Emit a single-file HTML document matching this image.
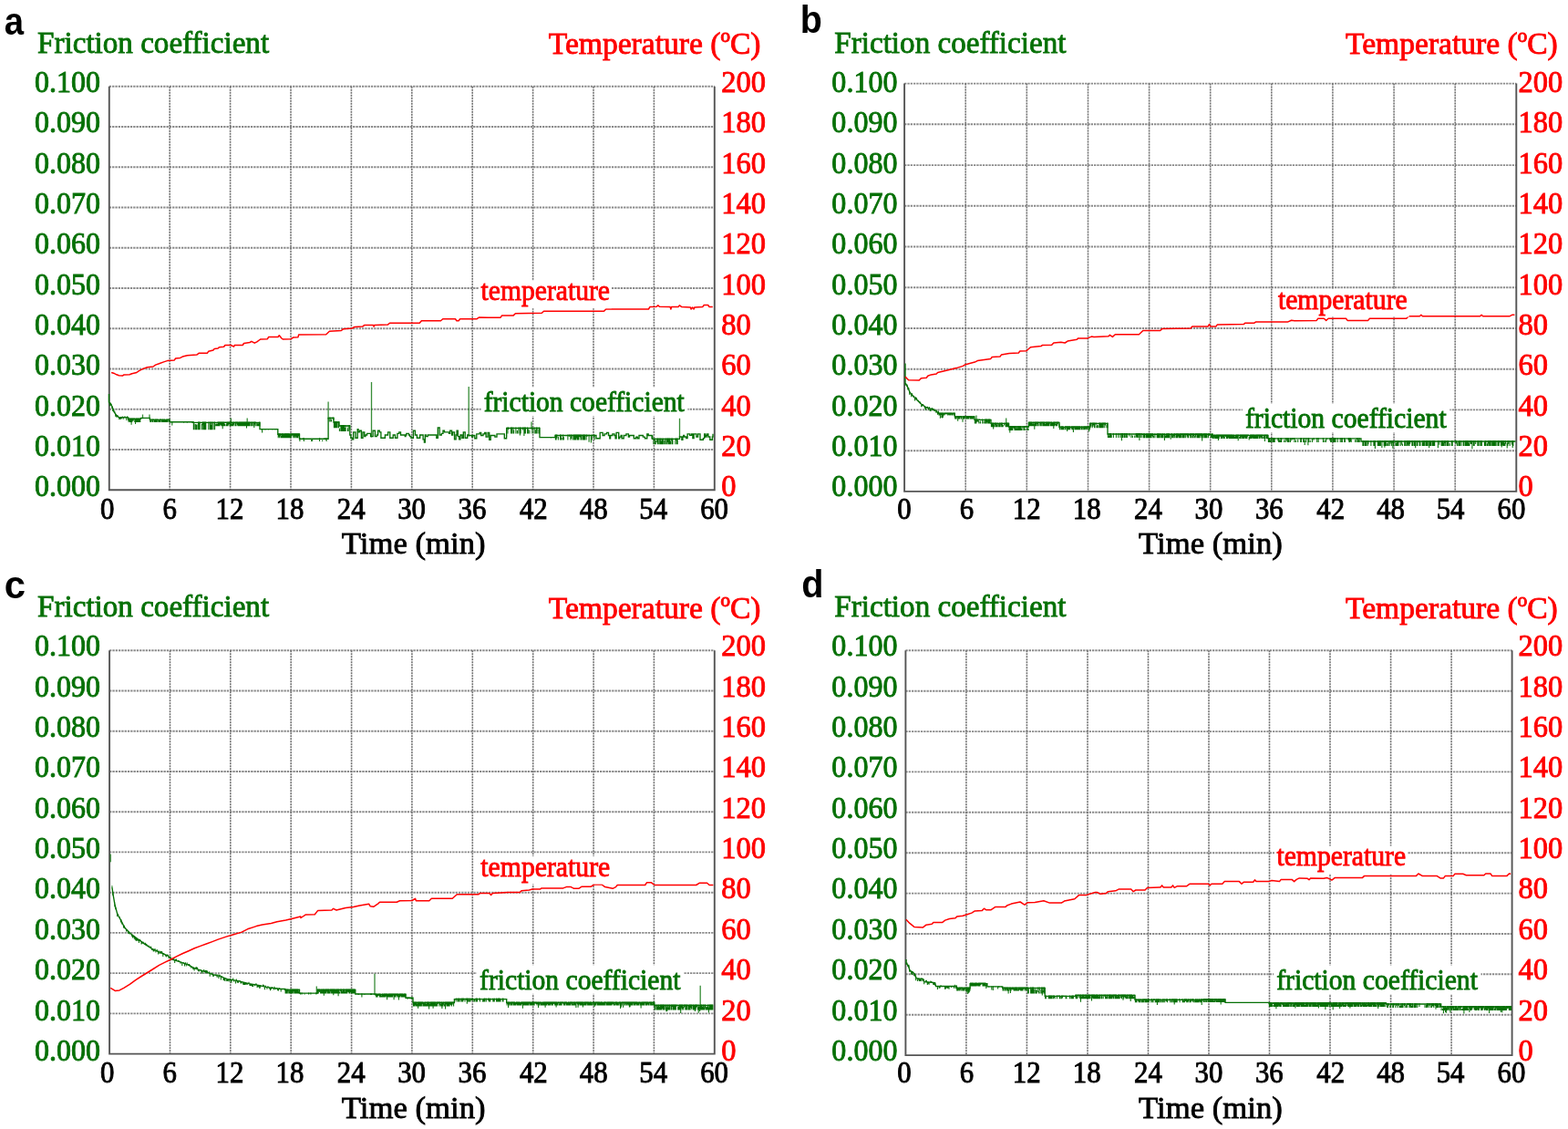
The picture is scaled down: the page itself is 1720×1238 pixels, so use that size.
<!DOCTYPE html><html><head><meta charset="utf-8"><style>html,body{margin:0;padding:0;background:#fff;overflow:hidden}svg{display:block}text{font-variant-ligatures:none}</style></head><body><svg width="1720" height="1238" viewBox="0 0 1720 1238">
<rect width="1720" height="1238" fill="#fff"/>
<path d="M119.8,94.8H783.8M119.8,139.0H783.8M119.8,183.3H783.8M119.8,227.5H783.8M119.8,271.8H783.8M119.8,316.0H783.8M119.8,360.2H783.8M119.8,404.5H783.8M119.8,448.7H783.8M119.8,493.0H783.8" stroke="#8a8a8a" stroke-width="1.9" stroke-dasharray="2.3 1" fill="none"/><path d="M186.2,94.8V537.2M252.6,94.8V537.2M319.0,94.8V537.2M385.4,94.8V537.2M451.8,94.8V537.2M518.2,94.8V537.2M584.6,94.8V537.2M651.0,94.8V537.2M717.4,94.8V537.2" stroke="#707070" stroke-width="1.6" stroke-dasharray="2 1" fill="none"/><path d="M119.8,94.8 V537.2 H783.8 V94.8" stroke="#555" stroke-width="1.9" fill="none"/>
<path d="M119.5,432.0 L119.5,441.0 L122.9,445.6 L124.9,451.5 L127.8,455.5 L129.8,457.4 L140.7,458.0 L140.7,458.0 L140.7,459.4 L154.5,459.4 L154.5,459.4 L154.5,458.3 L164.4,458.3 L164.4,458.3 L164.4,460.4 L186.2,460.4 L186.2,460.4 L186.2,462.7 L211.9,462.7 L211.9,462.7 L211.9,463.4 L235.6,463.4 L235.6,463.4 L235.6,463.4 L285.0,463.4 L285.0,463.4 L285.0,470.6 L304.8,470.6 L304.8,470.6 L304.8,476.2 L328.5,476.2 L328.5,476.2 L328.5,481.2 L360.1,481.2 L360.1,481.2 L360.1,458.4 L366.0,458.4 L366.0,458.4 L366.0,463.0 L372.0,463.0 L372.0,463.0 L372.0,467.0 L383.8,467.0 L383.8,467.0 L383.8,477.0 L384.9,477.0 L384.9,480.2 L386.3,480.2 L386.3,481.8 L387.7,481.8 L387.7,473.8 L390.0,473.8 L390.0,480.2 L392.2,480.2 L392.2,470.6 L393.0,470.6 L393.0,473.8 L394.6,473.8 L394.6,472.2 L396.4,472.2 L396.4,480.2 L398.0,480.2 L398.0,473.8 L399.8,473.8 L399.8,478.6 L400.9,478.6 L400.9,477.0 L402.6,477.0 L402.6,475.4 L404.2,475.4 L404.2,475.4 L406.6,475.4 L406.6,478.6 L409.1,478.6 L409.1,472.2 L411.4,472.2 L411.4,478.6 L413.3,478.6 L413.3,477.0 L414.6,477.0 L414.6,472.2 L416.4,472.2 L416.4,473.8 L417.9,473.8 L417.9,480.2 L419.9,480.2 L419.9,480.2 L422.4,480.2 L422.4,477.0 L424.4,477.0 L424.4,477.0 L425.6,477.0 L425.6,473.8 L427.8,473.8 L427.8,480.2 L429.7,480.2 L429.7,480.2 L431.2,480.2 L431.2,477.0 L433.5,477.0 L433.5,480.2 L435.9,480.2 L435.9,475.4 L437.8,475.4 L437.8,473.8 L439.5,473.8 L439.5,477.0 L442.0,477.0 L442.0,477.0 L444.3,477.0 L444.3,478.6 L445.0,478.6 L445.0,478.6 L445.0,478.6 L445.0,477.0 L445.8,477.0 L445.8,475.4 L448.4,475.4 L448.4,477.0 L449.6,477.0 L449.6,478.6 L451.0,478.6 L451.0,480.2 L453.4,480.2 L453.4,472.2 L455.4,472.2 L455.4,477.0 L457.4,477.0 L457.4,480.2 L458.4,480.2 L458.4,480.2 L460.7,480.2 L460.7,477.0 L462.4,477.0 L462.4,477.0 L464.1,477.0 L464.1,481.8 L465.4,481.8 L465.4,485.0 L466.3,485.0 L466.3,477.0 L467.2,477.0 L467.2,478.6 L469.2,478.6 L469.2,477.0 L471.5,477.0 L471.5,477.0 L473.2,477.0 L473.2,477.0 L474.7,477.0 L474.7,477.0 L476.3,477.0 L476.3,477.0 L478.8,477.0 L478.8,480.2 L480.3,480.2 L480.3,469.0 L482.2,469.0 L482.2,477.0 L484.3,477.0 L484.3,475.4 L486.0,475.4 L486.0,472.2 L487.5,472.2 L487.5,473.8 L490.1,473.8 L490.1,473.8 L492.5,473.8 L492.5,475.4 L493.7,475.4 L493.7,472.2 L495.6,472.2 L495.6,477.0 L496.6,477.0 L496.6,473.8 L498.5,473.8 L498.5,481.8 L500.1,481.8 L500.1,477.0 L501.1,477.0 L501.1,472.2 L502.3,472.2 L502.3,478.6 L503.7,478.6 L503.7,481.8 L505.0,481.8 L505.0,477.0 L506.9,477.0 L506.9,480.2 L508.3,480.2 L508.3,473.8 L510.2,473.8 L510.2,480.2 L511.8,480.2 L511.8,480.2 L512.7,480.2 L512.7,477.0 L514.0,477.0 L514.0,477.0 L514.2,477.0 L514.2,477.5 L515.8,477.5 L515.8,477.5 L517.6,477.5 L517.6,479.1 L518.7,479.1 L518.7,477.5 L520.8,477.5 L520.8,480.7 L522.8,480.7 L522.8,475.9 L524.9,475.9 L524.9,475.9 L526.2,475.9 L526.2,474.3 L527.7,474.3 L527.7,477.5 L529.1,477.5 L529.1,477.5 L530.0,477.5 L530.0,475.9 L531.7,475.9 L531.7,474.3 L533.1,474.3 L533.1,479.1 L535.1,479.1 L535.1,474.3 L536.7,474.3 L536.7,482.3 L538.2,482.3 L538.2,477.5 L540.4,477.5 L540.4,477.5 L542.9,477.5 L542.9,479.1 L545.0,479.1 L545.0,475.9 L547.2,475.9 L547.2,475.9 L549.4,475.9 L549.4,475.9 L551.6,475.9 L551.6,475.9 L553.3,475.9 L553.3,480.7 L555.6,480.7 L555.6,477.5 L555.7,477.5 L555.7,479.1 L555.7,479.1 L555.7,469.5 L592.0,469.5 L592.0,469.5 L592.0,479.6 L609.0,479.6 L609.0,479.6 L609.0,477.5 L652.5,477.5 L652.5,477.5 L652.5,477.5 L654.0,477.5 L654.0,480.7 L655.6,480.7 L655.6,480.7 L656.5,480.7 L656.5,480.7 L658.2,480.7 L658.2,474.3 L659.0,474.3 L659.0,474.3 L661.1,474.3 L661.1,477.5 L663.1,477.5 L663.1,475.9 L665.5,475.9 L665.5,474.3 L667.5,474.3 L667.5,477.5 L668.8,477.5 L668.8,480.7 L669.6,480.7 L669.6,477.5 L671.9,477.5 L671.9,475.9 L674.0,475.9 L674.0,477.5 L675.1,477.5 L675.1,480.7 L676.1,480.7 L676.1,474.3 L678.7,474.3 L678.7,480.7 L679.6,480.7 L679.6,479.1 L681.2,479.1 L681.2,477.5 L682.1,477.5 L682.1,480.7 L684.2,480.7 L684.2,477.5 L685.0,477.5 L685.0,477.5 L686.9,477.5 L686.9,475.9 L689.4,475.9 L689.4,479.1 L690.5,479.1 L690.5,477.5 L693.0,477.5 L693.0,477.5 L695.3,477.5 L695.3,480.7 L697.7,480.7 L697.7,479.1 L699.3,479.1 L699.3,480.7 L701.0,480.7 L701.0,477.5 L702.0,477.5 L702.0,477.5 L703.9,477.5 L703.9,477.5 L705.4,477.5 L705.4,479.1 L707.4,479.1 L707.4,480.7 L709.8,480.7 L709.8,475.9 L711.2,475.9 L711.2,477.5 L713.5,477.5 L713.5,477.5 L715.1,477.5 L715.1,480.7 L715.8,480.7 L715.8,477.5 L715.8,477.5 L715.8,481.4 L743.5,481.4 L745.5,481.4 L745.5,479.0 L747.9,479.0 L747.9,482.2 L748.9,482.2 L748.9,479.0 L749.7,479.0 L749.7,477.4 L750.6,477.4 L750.6,479.0 L752.7,479.0 L752.7,480.6 L754.1,480.6 L754.1,475.8 L756.7,475.8 L756.7,477.4 L758.5,477.4 L758.5,475.8 L759.9,475.8 L759.9,480.6 L761.1,480.6 L761.1,475.8 L763.0,475.8 L763.0,475.8 L763.9,475.8 L763.9,479.0 L765.6,479.0 L765.6,475.8 L768.0,475.8 L768.0,482.2 L769.3,482.2 L769.3,482.2 L771.4,482.2 L771.4,480.6 L772.7,480.6 L772.7,475.8 L773.9,475.8 L773.9,479.0 L775.0,479.0 L775.0,477.4 L775.8,477.4 L775.8,475.8 L776.9,475.8 L776.9,479.0 L778.8,479.0 L778.8,482.2 L781.4,482.2 L781.4,479.0 L782.0,479.0 L782.0,475.8" stroke="#067006" stroke-width="1.35" fill="none" stroke-linejoin="miter" stroke-miterlimit="2"/><path d="M120.4,442.2V445.2M121.3,443.4V441.6M122.2,444.7V442.8M122.9,445.6V448.3M123.8,448.3V451.1M124.7,450.9V448.8M125.8,452.7V450.8M126.7,454.0V456.8M127.8,455.5V457.8M128.7,456.4V455.1M129.6,457.2V455.7M130.7,457.4V460.1M131.6,457.5V459.7M132.5,457.5V459.7M133.4,457.6V459.2M134.3,457.6V456.6M135.2,457.7V459.8M137.0,457.8V456.3M138.8,457.9V461.1M139.7,457.9V456.2M140.6,458.0V460.9M141.1,458.4V463.0M141.8,458.4V461.9M142.6,458.4V463.0M143.3,458.4V463.0M144.1,458.4V465.8M144.8,458.4V463.0M145.6,458.4V461.8M146.3,458.4V461.6M147.1,458.4V460.0M147.8,458.4V463.0M148.6,459.3V465.0M149.3,458.4V463.0M150.1,458.4V463.0M150.8,458.4V463.0M151.6,458.4V463.0M152.3,458.4V463.0M153.1,458.4V463.0M153.8,458.4V463.0M155.7,458.0V459.0M161.7,458.0V459.0M164.8,459.4V463.0M165.6,460.2V463.0M166.3,459.4V461.3M167.1,459.4V463.0M167.8,459.4V463.0M168.6,459.4V460.5M169.3,460.5V463.0M170.1,459.4V463.0M170.8,459.4V463.0M171.6,459.4V463.0M172.3,459.4V463.0M173.1,459.4V461.0M173.8,460.7V463.0M174.6,460.2V463.0M175.3,459.4V463.0M176.1,459.4V463.0M176.8,459.4V460.8M177.6,460.6V463.0M178.3,459.4V463.0M179.1,459.4V463.0M179.8,460.5V463.0M180.6,459.4V463.0M181.3,460.5V463.0M182.1,460.6V463.0M182.8,459.4V463.0M183.6,459.4V463.0M184.3,459.4V461.3M185.1,459.4V463.0M185.8,459.4V463.0M186.6,462.9V463.4M188.8,462.4V466.6M193.3,462.4V462.7M201.6,462.4V463.4M205.3,462.4V463.4M210.6,462.4V463.4M212.3,462.4V471.3M213.1,464.4V471.3M214.6,465.1V471.3M215.3,465.8V471.3M216.1,465.2V471.3M217.6,462.4V471.3M218.3,462.4V471.3M219.1,462.4V471.3M221.3,465.1V471.3M222.1,462.4V466.2M222.8,462.4V471.3M223.6,462.4V471.3M224.3,462.4V471.3M225.1,462.4V471.3M225.8,462.4V471.3M228.8,462.4V471.3M230.3,462.4V471.3M231.1,462.4V471.3M231.8,466.0V471.3M232.6,462.4V471.3M234.1,462.4V471.3M235.6,462.4V471.3M236.8,464.8V467.3M237.5,464.5V467.3M238.2,465.0V467.3M239.0,462.4V467.3M239.8,462.4V467.3M240.5,462.4V467.3M241.2,462.4V465.7M242.0,462.4V467.3M242.8,462.4V466.2M243.5,462.4V467.3M244.2,462.4V470.2M245.0,462.4V467.3M245.8,462.4V467.3M246.5,464.8V467.3M247.2,462.4V464.0M248.0,465.3V467.3M248.8,462.4V467.3M249.5,462.4V467.3M250.2,462.4V465.7M251.0,462.4V467.3M251.8,462.4V465.0M252.5,462.4V467.3M253.2,462.4V467.3M254.0,465.0V467.3M254.8,462.4V467.3M255.5,464.0V467.3M256.2,462.4V465.7M257.0,462.4V467.3M258.5,462.4V467.3M259.2,462.4V464.4M260.0,462.4V467.3M260.8,462.4V466.2M261.5,463.6V467.3M262.2,462.4V467.3M263.0,462.4V467.3M263.8,462.4V467.3M264.5,462.4V467.3M265.2,462.4V467.3M266.0,462.4V467.3M266.8,462.4V467.3M267.5,462.4V467.3M268.2,462.4V467.3M269.0,462.4V467.3M269.8,462.4V467.3M270.5,462.4V469.5M271.2,463.8V467.3M272.0,462.4V467.3M272.8,462.4V467.3M273.5,462.4V467.3M274.2,462.4V467.3M275.8,462.4V467.3M276.5,462.4V467.3M278.0,462.4V467.3M278.8,462.4V469.1M279.5,462.4V465.5M280.2,462.4V467.3M281.8,464.1V467.3M282.5,464.2V467.3M283.2,464.4V467.3M284.0,464.0V467.3M284.8,462.4V467.3M286.1,470.3V471.0M286.9,470.3V471.3M287.6,470.3V474.4M289.1,470.3V471.0M289.9,470.6V471.3M291.4,470.3V471.3M292.9,470.3V470.9M294.4,470.3V471.3M298.9,470.7V471.3M301.9,470.3V471.3M304.1,470.3V471.3M305.2,475.2V480.2M305.9,475.2V478.7M306.7,475.2V480.2M307.4,475.2V478.3M308.2,477.7V480.2M308.9,475.2V480.2M309.7,475.2V480.2M310.4,475.2V480.2M311.2,476.6V480.2M311.9,475.2V480.2M312.7,475.2V480.2M313.4,475.2V480.2M314.2,475.2V480.2M314.9,475.2V480.2M315.7,475.2V480.2M316.4,475.2V480.2M317.2,475.2V480.2M317.9,477.1V480.2M318.7,475.2V480.2M319.4,475.2V480.2M320.2,475.2V478.3M320.9,475.2V477.2M321.7,475.2V480.2M322.4,475.2V478.6M323.2,475.2V480.2M323.9,475.2V480.2M324.7,475.2V478.5M325.4,475.2V480.2M326.2,475.2V480.2M326.9,475.2V480.2M327.7,475.2V478.3M328.4,475.2V480.2M328.9,480.2V484.1M332.6,480.2V482.2M333.4,480.2V484.1M341.6,482.3V484.1M342.4,481.1V484.1M350.6,480.2V484.1M353.6,482.5V484.1M355.9,480.2V481.7M357.4,480.2V482.6M358.1,481.5V484.1M358.9,480.2V481.8M361.2,457.4V462.5M362.8,457.4V462.5M363.5,459.8V462.5M365.0,457.4V459.6M365.8,457.4V460.8M366.4,462.0V469.3M367.1,462.0V469.3M367.9,462.0V469.3M368.6,462.0V469.3M369.4,462.0V469.3M370.9,462.0V469.3M371.6,462.0V469.3M372.4,469.7V473.0M373.9,466.0V473.0M374.6,466.0V473.0M375.4,466.0V473.0M376.1,466.0V473.0M376.9,466.0V473.0M377.6,466.0V473.0M378.4,469.1V473.0M379.1,466.0V473.0M381.4,469.6V473.0M382.1,466.0V473.0M383.6,466.0V471.0M556.9,468.5V475.5M557.6,468.5V471.0M560.6,468.5V475.5M561.4,468.5V475.5M562.9,468.5V475.5M563.6,471.4V475.5M565.9,468.5V475.5M567.4,472.1V475.5M568.9,468.5V475.5M570.4,468.5V477.5M571.1,468.5V475.5M573.4,468.5V471.4M574.9,468.5V478.0M575.6,468.5V475.5M576.4,468.5V475.5M578.6,468.5V475.5M579.4,470.5V475.5M580.9,471.6V475.5M583.9,468.5V475.5M586.1,468.5V475.5M587.6,471.2V475.5M588.4,468.5V475.5M589.1,468.5V471.2M589.9,471.1V475.5M591.4,468.5V475.5M595.4,479.4V480.0M599.9,479.4V480.0M604.4,479.8V480.2M609.4,476.5V482.4M610.1,476.5V482.4M610.9,476.5V480.5M612.4,478.8V482.4M614.6,476.5V482.4M615.4,476.5V482.4M616.1,479.9V482.4M617.6,476.5V482.4M618.4,479.2V482.4M622.9,476.5V482.4M624.4,476.5V478.8M625.9,476.5V482.4M626.6,476.5V480.9M628.1,476.5V482.4M629.6,476.5V482.4M630.4,476.5V482.4M631.1,476.5V482.4M631.9,476.5V482.4M632.6,476.5V480.6M633.4,476.5V482.4M634.1,476.5V482.4M634.9,476.5V482.4M635.6,476.5V478.9M636.4,476.5V479.6M637.1,476.5V482.4M637.9,476.5V482.4M639.4,476.5V482.4M640.1,476.5V482.4M640.9,476.5V482.4M641.6,476.5V482.4M643.1,476.5V482.4M643.9,476.5V478.7M646.1,476.5V484.7M648.4,478.3V485.6M649.1,476.5V482.4M651.4,476.5V479.0M652.1,476.5V482.4M716.9,480.4V487.3M718.4,480.4V487.3M719.2,483.1V487.3M720.7,480.4V485.2M721.4,480.4V487.3M722.2,480.4V487.3M723.7,480.4V487.3M724.4,480.4V487.3M725.2,483.8V487.3M725.9,480.4V487.3M726.7,482.3V487.3M727.4,480.4V487.3M728.9,482.7V487.3M729.7,480.4V487.3M731.2,480.4V487.3M731.9,480.4V487.3M732.7,480.4V485.1M733.4,480.4V487.3M734.2,480.4V487.3M734.9,480.4V487.3M735.7,483.8V487.3M736.4,480.4V483.2M737.2,480.4V487.3M737.9,480.4V487.3M740.9,480.4V487.3M741.7,480.4V483.0M742.4,480.4V487.3M743.2,480.4V487.3" stroke="#067006" stroke-width="1.05" fill="none"/><path d="M156.5,459.3V454.5M164.0,459.3V454.5M253.4,464.4V458.4M271.2,464.4V458.4M360.1,459.4V440.6M407.5,479.6V418.9M514.2,478.5V424.0M583.0,470.5V462.6M745.5,480.0V458.7" stroke="#067006" stroke-width="1.3" fill="none" opacity="0.8"/><path d="M122.1,408.5 L124.7,409.2 L127.9,410.8 L130.5,411.7 L134.4,412.1 L135.7,411.1 L142.1,410.8 L144.7,409.8 L149.9,408.5 L152.5,406.6 L156.4,404.6 L161.5,402.7 L168.0,402.0 L170.6,400.1 L174.5,398.8 L179.6,396.9 L183.5,395.6 L191.3,394.9 L192.6,393.0 L197.7,392.4 L200.3,391.1 L205.5,389.8 L215.8,389.1 L218.4,387.2 L227.5,387.2 L228.8,385.2 L233.9,384.0 L235.2,382.4 L239.1,382.0 L240.4,380.7 L245.6,380.3 L246.9,378.5 L253.3,378.5 L256.5,380.1 L257.2,378.5 L266.2,378.5 L267.5,376.5 L274.0,375.5 L275.9,374.3 L279.2,376.2 L281.8,374.9 L284.3,373.0 L285.6,372.1 L293.4,371.7 L294.7,369.5 L305.0,369.5 L306.3,367.8 L308.9,371.0 L310.2,371.9 L319.2,371.7 L321.8,370.0 L327.0,369.7 L327.6,367.1 L357.7,366.8 L361.4,363.3 L374.4,362.5 L376.6,360.7 L386.1,360.0 L389.0,358.5 L397.7,358.1 L399.9,356.4 L409.3,356.4 L410.1,358.1 L410.8,356.4 L425.3,356.1 L427.5,354.2 L460.2,354.2 L462.4,351.7 L483.5,351.7 L485.7,349.8 L499.5,349.8 L500.9,351.7 L503.1,351.7 L504.6,349.8 L522.8,349.8 L525.7,347.9 L535.0,348.2 L549.1,348.2 L550.6,345.9 L563.2,345.9 L565.4,343.7 L594.3,343.3 L596.5,341.2 L662.5,341.2 L664.7,339.0 L711.4,339.0 L712.9,336.6 L720.3,336.3 L721.8,334.8 L723.3,336.3 L735.1,336.6 L735.9,339.0 L736.6,336.6 L744.0,336.6 L745.5,334.8 L747.8,336.6 L757.4,337.0 L758.1,339.0 L759.6,337.0 L761.1,339.0 L761.8,337.0 L770.7,336.6 L772.2,334.5 L776.7,334.5 L778.1,336.6 L781.8,336.6" stroke="#ff0000" stroke-width="1.5" fill="none" stroke-linejoin="round"/>
<path d="M992.1,91.6H1663.3M992.1,136.3H1663.3M992.1,181.1H1663.3M992.1,225.8H1663.3M992.1,270.5H1663.3M992.1,315.2H1663.3M992.1,360.0H1663.3M992.1,404.7H1663.3M992.1,449.4H1663.3M992.1,494.2H1663.3" stroke="#8a8a8a" stroke-width="1.9" stroke-dasharray="2.3 1" fill="none"/><path d="M1059.2,91.6V538.9M1126.3,91.6V538.9M1193.5,91.6V538.9M1260.6,91.6V538.9M1327.7,91.6V538.9M1394.8,91.6V538.9M1461.9,91.6V538.9M1529.1,91.6V538.9M1596.2,91.6V538.9" stroke="#707070" stroke-width="1.6" stroke-dasharray="2 1" fill="none"/><path d="M992.1,91.6 V538.9 H1663.3 V91.6" stroke="#555" stroke-width="1.9" fill="none"/>
<path d="M993.0,398.5 L993.0,420.3 L995.0,422.8 L997.9,429.8 L1001.8,434.7 L1005.8,438.6 L1009.8,442.6 L1015.7,446.6 L1021.6,448.5 L1027.6,451.5 L1029.5,452.5 L1029.5,452.5 L1029.5,453.4 L1047.3,453.4 L1047.3,453.4 L1047.3,456.9 L1069.0,456.9 L1069.0,456.9 L1069.0,460.4 L1087.0,460.4 L1087.0,460.4 L1087.0,464.4 L1106.6,464.4 L1106.6,464.4 L1106.6,468.0 L1128.4,468.0 L1128.4,468.0 L1128.4,463.4 L1162.0,463.4 L1162.0,463.4 L1162.0,468.3 L1195.6,468.3 L1195.6,468.3 L1195.6,464.4 L1215.0,464.4 L1215.0,464.4 L1215.0,476.0 L1253.0,476.0 L1253.0,476.0 L1253.0,476.2 L1330.0,476.2 L1330.0,476.2 L1330.0,477.4 L1391.0,477.4 L1391.0,477.4 L1391.0,480.9 L1493.0,480.9 L1493.0,480.9 L1493.0,484.0 L1662.5,484.0" stroke="#067006" stroke-width="1.35" fill="none" stroke-linejoin="miter" stroke-miterlimit="2"/><path d="M993.0,420.3V423.0M993.9,421.4V420.5M994.8,422.5V424.3M995.0,422.8V421.5M995.9,425.0V427.6M996.8,427.1V425.3M997.7,429.3V432.2M997.9,429.8V432.9M999.7,432.1V435.3M1000.6,433.2V431.3M1001.5,434.3V433.4M1001.8,434.7V433.7M1002.7,435.6V434.1M1003.6,436.5V439.4M1004.5,437.3V435.3M1005.4,438.2V436.1M1005.8,438.6V437.2M1007.6,440.4V438.7M1008.5,441.3V440.2M1009.4,442.2V440.5M1009.8,442.6V441.5M1010.7,443.2V446.2M1011.6,443.8V445.4M1012.5,444.4V443.1M1014.3,445.7V447.8M1015.2,446.3V449.7M1015.7,446.6V449.7M1016.6,446.9V445.9M1017.5,447.2V445.8M1018.4,447.5V449.8M1019.3,447.8V445.9M1020.2,448.0V450.7M1021.1,448.3V451.1M1022.5,448.9V446.9M1023.4,449.4V448.2M1024.3,449.8V448.1M1025.2,450.3V449.0M1026.1,450.8V449.6M1027.0,451.2V453.1M1027.6,451.5V449.5M1028.5,452.0V454.7M1029.4,452.4V450.5M1029.9,452.5V455.5M1030.7,452.5V455.5M1031.4,452.5V458.8M1032.2,452.5V454.9M1032.9,452.5V458.1M1033.7,452.5V458.6M1034.4,452.5V457.8M1035.2,454.2V455.5M1035.9,452.5V455.5M1036.7,452.5V454.4M1037.4,452.5V454.1M1038.2,452.5V454.6M1038.9,452.5V453.9M1039.7,452.5V455.5M1040.4,452.5V454.8M1041.2,452.5V455.5M1041.9,452.5V454.7M1042.7,452.5V455.5M1043.4,452.5V454.4M1044.2,452.5V455.5M1044.9,454.0V455.5M1045.7,452.5V454.3M1046.4,452.5V455.5M1047.2,452.5V453.9M1047.7,455.9V459.4M1048.5,455.9V459.4M1049.2,457.2V459.4M1050.0,455.9V457.7M1050.7,455.9V461.7M1051.5,455.9V459.4M1052.2,455.9V459.4M1053.0,455.9V459.4M1053.7,455.9V457.3M1054.5,455.9V459.4M1056.0,456.8V462.7M1056.7,455.9V459.4M1057.5,455.9V459.4M1058.2,455.9V458.2M1059.0,455.9V459.4M1060.5,455.9V459.4M1061.2,455.9V459.4M1062.0,455.9V459.4M1062.7,455.9V459.4M1063.5,455.9V457.8M1064.2,455.9V459.4M1065.0,455.9V459.4M1065.7,455.9V459.4M1066.5,457.2V459.4M1067.2,455.9V459.4M1068.0,455.9V459.4M1069.4,459.4V464.4M1070.2,459.4V464.4M1070.9,459.4V464.4M1071.7,459.4V462.8M1072.4,459.4V461.9M1073.2,459.4V463.1M1073.9,462.1V464.4M1074.7,459.4V461.1M1075.4,461.4V464.4M1077.7,459.4V464.4M1079.2,461.4V464.4M1080.7,459.4V464.4M1081.4,459.4V464.4M1082.2,459.4V464.4M1082.9,459.4V463.1M1083.7,461.2V464.4M1084.4,459.4V464.4M1085.2,459.4V464.4M1085.9,459.4V464.4M1087.4,463.4V468.3M1088.2,463.4V468.3M1088.9,463.4V468.3M1089.7,463.4V470.6M1090.4,465.5V468.3M1091.2,463.4V465.7M1091.9,463.4V468.3M1092.7,463.4V468.3M1093.4,465.6V468.3M1094.2,463.4V468.3M1095.7,464.8V468.3M1096.4,463.4V468.3M1097.2,465.4V468.3M1097.9,463.4V465.9M1098.7,463.4V468.3M1099.4,463.4V468.3M1100.2,465.9V468.3M1101.7,463.4V466.4M1103.2,463.4V468.3M1103.9,463.4V468.3M1104.7,463.4V468.3M1105.4,463.4V468.3M1106.2,463.4V468.3M1107.0,468.4V472.0M1107.8,467.0V474.6M1108.5,467.0V472.0M1109.2,467.0V472.0M1110.0,467.0V472.0M1110.8,467.0V472.0M1111.5,467.0V469.0M1112.2,467.0V469.9M1113.0,467.0V472.0M1113.8,467.0V472.0M1114.5,469.4V472.0M1115.2,467.0V472.0M1116.0,469.6V472.0M1116.8,467.0V472.0M1117.5,467.0V472.0M1118.2,467.0V472.0M1119.0,467.0V472.0M1119.8,467.0V472.0M1120.5,469.6V472.0M1122.0,467.0V472.0M1123.5,467.0V472.0M1124.2,467.0V468.5M1125.0,469.7V472.0M1125.8,467.0V468.7M1127.2,467.0V472.0M1128.0,469.7V472.0M1128.8,462.4V467.3M1129.6,462.4V467.3M1130.3,462.4V467.3M1131.1,462.4V467.3M1131.8,462.4V467.3M1132.6,464.4V467.3M1133.3,462.4V467.3M1134.1,465.0V467.3M1134.8,462.4V470.7M1135.6,462.4V467.3M1136.3,462.4V467.3M1137.1,462.4V467.3M1137.8,462.4V464.8M1138.6,462.4V467.3M1139.3,462.4V464.5M1140.1,465.1V467.3M1140.8,462.4V465.2M1141.6,462.4V467.3M1142.3,462.4V467.3M1143.1,462.4V464.3M1143.8,462.4V467.3M1144.6,462.4V467.3M1145.3,462.4V467.3M1146.1,462.4V467.3M1146.8,465.1V467.3M1147.6,462.4V467.3M1148.3,462.4V467.3M1149.1,462.4V467.3M1149.8,462.4V467.3M1150.6,462.4V467.3M1151.3,462.4V464.7M1152.1,464.5V467.3M1152.8,462.4V467.3M1153.6,462.4V467.3M1154.3,463.6V467.3M1155.1,463.8V467.3M1155.8,462.4V469.9M1156.6,462.4V467.3M1157.3,462.4V466.0M1158.1,465.0V467.3M1158.8,462.4V467.3M1159.6,462.4V467.3M1160.3,462.4V465.3M1161.1,462.4V463.9M1161.8,464.5V467.3M1162.4,467.3V471.3M1163.9,467.3V471.3M1164.7,467.3V471.3M1165.4,467.3V471.3M1166.2,467.3V471.3M1166.9,468.1V471.3M1168.4,467.3V471.3M1169.2,467.3V468.9M1169.9,467.3V471.3M1170.7,467.3V473.0M1171.4,467.3V471.3M1172.2,467.3V471.3M1172.9,467.3V471.3M1173.7,467.3V471.3M1175.2,467.3V469.8M1175.9,467.3V471.3M1176.7,467.3V471.3M1177.4,467.3V474.0M1178.2,467.3V469.3M1178.9,467.3V471.3M1179.7,467.3V471.3M1180.4,467.3V471.3M1181.2,467.3V471.3M1181.9,467.3V471.3M1182.7,467.3V471.3M1183.4,467.3V471.3M1184.2,467.3V471.3M1184.9,467.3V471.3M1186.4,467.3V471.3M1187.2,467.3V471.3M1188.7,467.3V471.3M1189.4,467.3V471.3M1190.2,467.3V471.3M1190.9,467.3V469.7M1191.7,467.3V471.3M1192.4,467.3V469.7M1193.2,467.3V471.3M1193.9,467.3V468.6M1194.7,467.3V473.2M1195.4,467.3V471.3M1196.0,463.4V469.3M1196.8,463.4V467.6M1198.2,463.4V469.3M1199.0,463.4V467.7M1199.8,463.4V466.2M1200.5,463.4V469.3M1201.2,463.4V466.4M1202.0,466.6V469.3M1202.8,463.4V465.7M1203.5,465.8V469.3M1204.2,466.2V469.3M1205.8,463.4V469.3M1206.5,463.4V469.3M1207.2,463.4V469.3M1208.0,464.6V469.3M1208.8,463.4V469.3M1209.5,463.4V469.3M1210.2,463.4V469.3M1211.0,463.4V465.4M1211.8,463.4V469.3M1212.5,463.4V466.4M1214.0,465.6V469.3M1214.8,463.4V469.3M1215.4,475.0V480.0M1216.2,478.0V480.0M1216.9,475.0V480.0M1217.7,475.0V480.0M1218.4,475.0V480.0M1219.2,476.9V480.0M1221.4,475.0V480.0M1224.4,475.0V480.0M1226.7,475.0V480.0M1228.9,475.0V480.0M1230.4,475.0V483.3M1231.2,475.0V480.0M1231.9,475.0V480.0M1233.4,475.0V480.0M1234.2,475.0V480.0M1235.7,475.0V480.0M1236.4,475.0V480.0M1238.7,475.0V478.5M1240.9,476.7V480.0M1242.4,477.6V480.0M1244.7,477.5V480.0M1246.2,475.0V480.0M1246.9,475.0V478.8M1247.7,475.0V480.0M1248.4,475.0V480.0M1249.2,475.0V476.8M1249.9,475.0V482.9M1250.7,475.0V480.0M1252.2,475.0V480.0M1254.2,475.2V480.2M1254.9,475.2V480.2M1255.7,475.2V480.2M1257.2,475.2V480.2M1257.9,475.2V480.2M1258.7,475.2V480.2M1259.4,475.2V480.2M1260.2,475.2V480.2M1260.9,475.2V480.2M1261.7,475.2V480.2M1262.4,475.2V480.2M1263.2,475.2V477.9M1263.9,475.2V480.2M1264.7,475.2V478.8M1265.4,477.5V480.2M1266.9,475.2V480.2M1269.2,475.2V480.2M1269.9,475.2V480.2M1270.7,475.2V480.2M1271.4,475.2V480.2M1272.2,475.2V480.2M1273.7,475.2V480.2M1274.4,477.0V480.2M1275.2,475.2V480.2M1275.9,475.2V480.2M1277.4,475.2V482.9M1278.2,477.4V480.2M1278.9,477.2V480.2M1279.7,475.2V480.2M1280.4,475.2V480.2M1281.2,475.2V480.2M1281.9,475.2V480.2M1282.7,475.2V480.2M1284.2,476.3V481.8M1284.9,475.2V477.2M1285.7,475.2V480.2M1286.4,476.6V480.2M1287.2,476.6V480.2M1287.9,475.2V478.0M1288.7,475.2V480.2M1290.2,475.2V480.2M1290.9,475.2V480.2M1291.7,475.2V480.2M1292.4,475.2V478.4M1293.2,476.3V480.2M1293.9,475.2V480.2M1294.7,475.2V480.2M1295.4,475.2V480.2M1296.2,475.2V477.1M1296.9,475.2V480.2M1297.7,475.2V480.2M1298.4,475.2V480.2M1299.2,475.2V480.2M1299.9,475.2V477.3M1300.7,475.2V480.2M1301.4,475.2V477.0M1302.2,475.2V478.5M1302.9,475.2V480.2M1303.7,475.2V480.2M1305.2,475.2V478.1M1305.9,475.2V480.2M1306.7,475.2V480.2M1307.4,475.2V477.0M1308.2,475.2V480.2M1308.9,475.2V480.2M1309.7,475.2V478.0M1310.4,478.1V480.2M1311.2,475.2V478.6M1311.9,475.2V480.2M1312.7,475.2V476.9M1313.4,475.2V480.2M1314.2,475.2V480.2M1314.9,475.2V480.2M1315.7,475.2V480.2M1316.4,475.2V477.7M1317.2,475.2V480.2M1317.9,475.2V478.3M1318.7,475.2V483.5M1319.4,476.9V480.2M1320.2,475.2V477.6M1320.9,475.2V480.2M1321.7,475.2V480.2M1322.4,475.2V480.2M1323.2,475.2V480.2M1323.9,475.2V480.2M1325.4,475.2V480.2M1326.2,475.2V477.5M1326.9,475.2V478.1M1328.4,477.1V480.2M1329.2,477.1V480.2M1329.9,475.2V480.2M1330.4,476.4V480.9M1331.2,477.7V480.9M1331.9,476.4V479.6M1332.7,476.4V480.9M1333.4,477.8V480.9M1334.2,476.4V480.9M1334.9,476.4V480.9M1335.7,476.4V480.9M1336.4,476.4V483.1M1337.2,476.4V480.9M1337.9,476.4V478.8M1338.7,476.4V478.7M1339.4,476.4V480.9M1340.2,476.4V480.9M1340.9,476.4V480.9M1341.7,476.4V479.6M1342.4,476.4V480.9M1343.2,476.4V480.9M1343.9,476.4V478.3M1344.7,476.4V479.1M1345.4,476.4V480.9M1346.2,476.4V480.9M1346.9,476.4V480.9M1347.7,476.4V479.7M1348.4,476.4V480.9M1349.2,476.4V480.9M1349.9,476.4V480.9M1350.7,476.4V480.9M1351.4,476.4V480.9M1352.2,476.4V480.9M1352.9,478.0V480.9M1353.7,476.4V480.9M1354.4,478.7V480.9M1355.2,477.8V480.9M1355.9,476.4V480.9M1356.7,476.4V480.9M1357.4,476.4V480.9M1358.2,476.4V483.2M1358.9,476.4V478.3M1359.7,478.8V480.9M1360.4,476.4V480.9M1361.2,476.4V480.9M1361.9,476.4V478.9M1362.7,476.4V480.9M1363.4,476.4V480.9M1364.2,476.4V480.9M1364.9,476.4V480.9M1365.7,476.4V479.5M1366.4,476.4V480.9M1367.2,476.4V480.9M1367.9,476.4V480.9M1368.7,476.4V478.8M1369.4,476.4V478.0M1370.2,479.1V482.5M1370.9,477.5V480.9M1371.7,476.4V480.9M1372.4,476.4V480.9M1373.2,476.4V480.9M1373.9,476.4V479.8M1374.7,476.4V480.9M1375.4,476.4V480.9M1376.2,476.4V480.9M1376.9,477.4V480.9M1377.7,476.4V480.9M1378.4,476.4V480.9M1379.2,476.4V480.9M1379.9,476.4V480.9M1380.7,476.4V478.6M1381.4,476.4V480.9M1382.2,476.4V479.4M1382.9,476.4V480.9M1383.7,476.4V479.7M1384.4,476.4V480.9M1385.2,476.4V477.8M1385.9,478.4V480.9M1386.7,476.4V480.9M1387.4,476.4V484.0M1388.2,476.4V477.8M1388.9,476.4V480.9M1389.7,476.4V480.9M1390.4,476.4V480.9M1391.4,479.9V485.0M1392.2,479.9V485.0M1392.9,479.9V485.0M1393.7,482.8V485.0M1394.4,479.9V485.0M1395.9,479.9V485.0M1396.7,479.9V485.0M1397.4,479.9V485.0M1398.2,479.9V485.0M1401.9,479.9V483.6M1402.7,479.9V485.0M1403.4,482.3V485.0M1404.2,482.9V485.0M1404.9,479.9V485.0M1405.7,479.9V485.0M1408.7,482.4V485.0M1410.2,479.9V485.0M1411.7,479.9V483.5M1412.4,479.9V485.0M1413.2,479.9V485.0M1413.9,481.7V485.0M1415.4,479.9V485.0M1416.9,479.9V483.3M1417.7,479.9V481.8M1419.2,479.9V481.8M1419.9,479.9V485.0M1421.4,482.4V485.0M1423.7,481.7V485.0M1426.7,479.9V485.0M1427.4,479.9V485.0M1429.7,481.4V485.0M1430.4,479.9V485.0M1431.2,482.7V488.1M1432.7,479.9V485.0M1434.9,479.9V488.3M1435.7,479.9V485.0M1437.2,482.8V485.0M1439.4,481.1V485.0M1440.9,479.9V482.8M1444.7,479.9V485.0M1446.2,479.9V485.0M1451.4,479.9V485.0M1452.9,482.5V485.0M1454.4,481.9V485.0M1455.2,479.9V482.6M1458.9,479.9V483.3M1459.7,479.9V485.0M1460.4,479.9V485.0M1461.9,479.9V485.0M1462.7,479.9V485.0M1463.4,479.9V485.0M1464.2,479.9V485.0M1464.9,479.9V485.0M1467.2,479.9V485.0M1470.2,479.9V485.0M1471.7,479.9V485.0M1472.4,479.9V485.0M1474.7,479.9V485.0M1475.4,481.4V485.0M1479.2,479.9V483.0M1479.9,479.9V485.0M1480.7,479.9V485.0M1481.4,479.9V483.9M1482.2,481.3V485.0M1486.7,482.1V485.0M1488.2,479.9V485.0M1489.7,479.9V485.0M1490.4,482.1V485.0M1491.2,479.9V485.0M1494.9,483.0V489.0M1495.7,483.0V489.0M1496.4,483.0V485.1M1497.2,484.3V489.0M1497.9,483.0V489.0M1498.7,483.0V489.0M1500.2,483.0V489.0M1500.9,483.0V487.2M1503.9,483.0V489.0M1506.9,483.0V489.0M1507.7,483.0V489.0M1508.4,483.0V492.0M1511.4,483.0V489.0M1512.2,484.3V489.0M1512.9,483.0V489.0M1513.7,483.0V489.0M1514.4,483.0V489.0M1515.9,483.0V490.9M1516.7,483.0V485.1M1518.2,483.0V489.0M1518.9,483.0V490.8M1519.7,483.0V489.0M1520.4,483.0V489.0M1521.2,483.0V484.8M1521.9,486.1V489.0M1522.7,483.0V489.0M1524.2,483.0V489.0M1524.9,483.0V486.8M1525.7,483.0V485.3M1526.4,483.0V489.0M1527.2,483.0V485.7M1527.9,483.0V491.8M1528.7,483.0V489.0M1530.9,483.0V489.0M1531.7,485.9V489.0M1532.4,483.0V489.0M1533.2,483.0V489.0M1533.9,483.0V489.0M1534.7,483.0V485.3M1536.2,483.0V489.0M1537.7,483.0V487.7M1538.4,486.4V489.0M1540.7,483.0V489.0M1541.4,483.0V489.0M1542.9,483.0V489.0M1543.7,483.0V489.0M1544.4,483.0V487.4M1545.2,483.0V489.0M1545.9,483.0V489.0M1546.7,483.0V486.7M1548.2,483.0V484.9M1548.9,483.0V489.0M1549.7,483.0V489.0M1551.2,483.0V489.0M1551.9,483.0V489.0M1552.7,483.0V491.3M1554.2,483.0V489.0M1554.9,483.0V489.0M1556.4,483.0V485.2M1557.2,483.0V489.0M1557.9,484.2V489.0M1560.2,483.0V489.0M1560.9,485.2V489.0M1561.7,483.0V489.0M1562.4,483.0V489.0M1563.9,483.0V489.0M1564.7,483.0V489.0M1565.4,483.0V489.0M1566.2,483.0V489.0M1567.7,483.0V491.3M1568.4,483.0V489.0M1569.2,484.3V489.0M1569.9,483.0V489.0M1571.4,483.0V489.0M1572.2,483.0V489.0M1572.9,483.0V489.0M1573.7,483.0V489.0M1577.4,483.0V491.3M1578.9,483.0V487.7M1581.2,483.0V489.0M1581.9,483.0V489.0M1582.7,483.0V489.0M1583.4,485.2V489.0M1584.2,483.0V489.0M1584.9,483.0V485.9M1585.7,483.0V489.0M1587.2,483.0V489.0M1587.9,483.0V489.0M1588.7,483.0V489.0M1590.2,486.1V489.0M1592.4,483.0V489.0M1593.2,483.0V489.0M1596.9,483.0V487.3M1597.7,483.0V486.1M1598.4,485.2V489.0M1599.9,484.2V489.0M1600.7,483.0V489.0M1601.4,483.0V489.0M1602.9,483.0V489.0M1605.2,483.0V489.0M1605.9,483.0V489.0M1607.4,483.0V489.0M1608.2,483.0V489.0M1608.9,483.0V489.0M1609.7,483.0V489.0M1610.4,483.0V489.0M1611.2,486.1V489.0M1611.9,483.0V489.0M1612.7,483.0V485.3M1613.4,483.0V486.9M1614.2,483.0V486.9M1614.9,483.0V492.2M1616.4,483.0V489.0M1617.2,483.0V489.0M1618.7,483.0V487.0M1620.9,483.0V489.0M1621.7,483.0V489.0M1623.2,483.0V489.0M1624.7,483.0V489.0M1625.4,483.0V489.0M1628.4,484.4V489.0M1629.2,483.0V489.0M1629.9,483.0V489.0M1631.4,486.2V489.0M1632.2,483.0V489.0M1632.9,483.0V486.4M1633.7,483.0V489.0M1634.4,483.0V489.0M1635.2,483.0V489.0M1635.9,483.0V485.1M1636.7,484.3V489.0M1637.4,483.0V489.0M1638.2,483.0V489.0M1638.9,483.0V489.0M1639.7,483.0V489.0M1640.4,483.0V489.0M1641.9,483.0V489.0M1643.4,483.0V489.0M1644.2,483.0V489.0M1644.9,483.0V485.4M1646.4,483.0V489.0M1647.2,483.0V490.6M1647.9,483.0V487.7M1648.7,483.0V489.0M1649.4,483.0V489.0M1650.2,486.1V489.0M1650.9,483.0V489.0M1651.7,483.0V486.7M1653.2,486.0V491.5M1653.9,483.0V489.0M1654.7,483.0V486.9M1656.2,483.0V489.0M1658.4,483.0V487.4M1659.2,483.0V490.9M1659.9,483.0V489.0" stroke="#067006" stroke-width="1.05" fill="none"/><path d="M1071.0,461.4V455.5M1103.7,465.4V458.4" stroke="#067006" stroke-width="1.3" fill="none" opacity="0.8"/><path d="M993.0,413.1 L996.6,416.7 L1008.3,417.1 L1010.4,414.8 L1016.3,414.2 L1017.7,412.3 L1021.3,410.9 L1027.2,409.9 L1028.6,408.4 L1040.2,405.8 L1049.0,403.6 L1056.2,401.4 L1059.1,399.7 L1069.3,397.1 L1072.2,395.6 L1086.8,393.4 L1088.2,391.5 L1097.0,391.0 L1098.4,389.1 L1107.1,387.6 L1117.3,386.9 L1118.8,385.1 L1126.0,384.7 L1130.4,380.8 L1142.0,379.6 L1143.5,378.4 L1153.7,378.2 L1155.8,376.0 L1163.8,375.2 L1168.2,376.0 L1171.1,374.1 L1181.3,372.3 L1182.7,370.9 L1192.9,370.9 L1197.3,369.1 L1200.0,369.4 L1216.0,368.7 L1217.4,367.3 L1220.4,369.4 L1223.3,366.8 L1249.4,366.8 L1253.8,362.5 L1272.7,362.5 L1274.9,360.4 L1306.1,360.0 L1307.6,358.1 L1325.0,358.1 L1326.5,355.6 L1327.9,358.1 L1333.8,358.1 L1335.2,356.1 L1364.3,355.6 L1365.7,354.2 L1375.9,354.2 L1377.4,353.1 L1412.3,353.1 L1416.6,351.3 L1420.0,351.7 L1444.2,351.4 L1445.8,349.3 L1452.3,349.3 L1454.7,351.4 L1457.1,349.3 L1476.5,349.3 L1478.1,351.4 L1500.7,351.4 L1502.4,349.3 L1542.7,349.3 L1545.2,346.8 L1557.3,346.8 L1558.9,345.2 L1560.5,346.8 L1623.5,346.8 L1625.1,345.2 L1626.7,346.8 L1655.8,346.8 L1659.0,345.2 L1661.4,345.2" stroke="#ff0000" stroke-width="1.5" fill="none" stroke-linejoin="round"/>
<path d="M120.1,713.3H783.8M120.1,757.5H783.8M120.1,801.8H783.8M120.1,846.0H783.8M120.1,890.2H783.8M120.1,934.4H783.8M120.1,978.7H783.8M120.1,1022.9H783.8M120.1,1067.1H783.8M120.1,1111.4H783.8" stroke="#8a8a8a" stroke-width="1.9" stroke-dasharray="2.3 1" fill="none"/><path d="M186.5,713.3V1155.6M252.8,713.3V1155.6M319.2,713.3V1155.6M385.6,713.3V1155.6M451.9,713.3V1155.6M518.3,713.3V1155.6M584.7,713.3V1155.6M651.1,713.3V1155.6M717.4,713.3V1155.6" stroke="#707070" stroke-width="1.6" stroke-dasharray="2 1" fill="none"/><path d="M120.1,713.3 V1155.6 H783.8 V713.3" stroke="#555" stroke-width="1.9" fill="none"/>
<path d="M122.9,972.8 L123.9,979.8 L125.9,991.6 L128.8,1002.5 L132.8,1009.4 L136.7,1017.3 L142.7,1023.3 L150.6,1029.2 L158.5,1035.1 L166.4,1040.1 L174.3,1044.0 L184.2,1048.0 L188.1,1051.9 L198.0,1054.9 L205.9,1057.8 L213.8,1061.8 L225.7,1065.8 L233.6,1068.7 L241.5,1070.7 L249.4,1073.7 L261.3,1075.6 L273.1,1078.6 L285.0,1080.6 L292.9,1082.6 L308.7,1084.5 L312.7,1084.5 L312.7,1085.5 L328.5,1085.5 L328.5,1085.5 L328.5,1089.1 L348.2,1089.1 L348.2,1089.1 L348.2,1085.5 L389.8,1085.5 L389.8,1085.5 L389.8,1090.0 L411.5,1090.0 L411.5,1090.0 L411.5,1090.5 L445.0,1090.5 L445.0,1090.5 L445.0,1094.2 L453.0,1094.2 L453.0,1094.2 L453.0,1099.5 L498.4,1099.5 L498.4,1099.5 L498.4,1095.6 L555.7,1095.6 L555.7,1095.6 L555.7,1099.5 L717.8,1099.5 L717.8,1099.5 L717.8,1102.5 L782.0,1102.5" stroke="#067006" stroke-width="1.35" fill="none" stroke-linejoin="miter" stroke-miterlimit="2"/><path d="M122.9,972.8V971.3M123.8,979.1V981.8M123.9,979.8V977.9M125.7,990.6V989.5M125.9,991.6V994.4M126.8,994.9V997.3M128.6,1001.5V1004.9M129.7,1004.1V1002.3M131.5,1007.2V1005.6M132.4,1008.8V1011.4M132.8,1009.4V1008.1M133.7,1011.2V1013.4M135.5,1014.8V1017.6M136.4,1016.6V1014.7M136.7,1017.3V1016.1M137.6,1018.2V1017.3M138.5,1019.1V1021.6M139.4,1020.0V1018.9M140.3,1020.9V1023.6M141.2,1021.8V1023.8M142.1,1022.7V1024.6M144.5,1024.6V1026.8M145.4,1025.3V1028.4M146.3,1026.0V1027.7M147.2,1026.6V1029.6M148.1,1027.3V1030.6M149.0,1028.0V1031.4M149.9,1028.7V1032.1M150.6,1029.2V1031.3M151.5,1029.9V1031.7M152.4,1030.5V1034.0M153.3,1031.2V1029.7M154.2,1031.9V1030.8M155.1,1032.6V1035.6M156.0,1033.2V1034.8M156.9,1033.9V1032.5M157.8,1034.6V1033.5M159.4,1035.7V1033.8M160.3,1036.2V1034.8M161.2,1036.8V1035.6M163.0,1037.9V1036.6M164.8,1039.1V1037.7M165.7,1039.6V1037.7M166.4,1040.1V1041.7M167.3,1040.5V1042.0M168.2,1041.0V1043.5M169.1,1041.4V1043.2M170.0,1041.9V1040.0M170.9,1042.3V1044.4M171.8,1042.8V1041.6M172.7,1043.2V1041.2M173.6,1043.7V1046.5M174.3,1044.0V1042.4M175.2,1044.4V1045.9M176.1,1044.7V1042.8M177.0,1045.1V1043.1M177.9,1045.4V1043.5M178.8,1045.8V1049.0M179.7,1046.2V1044.9M181.5,1046.9V1048.6M182.4,1047.2V1049.5M183.3,1047.6V1046.6M184.2,1048.0V1046.7M185.1,1048.9V1050.9M186.0,1049.8V1048.8M186.9,1050.7V1048.6M187.8,1051.6V1050.5M189.9,1052.5V1051.4M190.8,1052.7V1050.8M191.7,1053.0V1055.9M192.6,1053.3V1051.7M193.5,1053.5V1051.5M195.3,1054.1V1053.1M196.2,1054.3V1052.9M198.0,1054.9V1056.7M199.8,1055.6V1058.9M201.6,1056.2V1055.2M202.5,1056.6V1059.4M203.4,1056.9V1055.3M204.3,1057.2V1059.6M205.2,1057.6V1055.6M206.8,1058.3V1056.9M207.7,1058.7V1056.9M208.6,1059.2V1058.2M209.5,1059.6V1061.4M211.3,1060.5V1062.4M212.2,1061.0V1063.0M213.1,1061.4V1064.4M214.7,1062.1V1060.5M215.6,1062.4V1060.3M216.5,1062.7V1060.7M217.4,1063.0V1065.1M218.3,1063.3V1065.5M220.1,1063.9V1062.9M221.0,1064.2V1066.6M221.9,1064.5V1067.8M223.7,1065.1V1063.0M224.6,1065.4V1064.2M225.5,1065.7V1064.1M225.7,1065.8V1067.5M226.6,1066.1V1064.0M227.5,1066.4V1064.6M229.3,1067.1V1065.3M230.2,1067.4V1070.7M232.0,1068.1V1066.6M232.9,1068.5V1067.3M233.6,1068.7V1070.8M234.5,1068.9V1070.7M236.3,1069.4V1068.4M237.2,1069.6V1068.2M238.1,1069.8V1071.8M239.0,1070.1V1068.2M239.9,1070.3V1073.0M240.8,1070.5V1068.5M241.5,1070.7V1069.3M242.4,1071.0V1074.4M243.3,1071.4V1070.0M245.1,1072.0V1074.9M246.0,1072.4V1075.2M246.9,1072.7V1075.9M248.7,1073.4V1075.9M249.4,1073.7V1076.0M250.3,1073.8V1075.5M251.2,1074.0V1076.5M252.1,1074.1V1073.2M253.0,1074.3V1076.3M253.9,1074.4V1077.7M255.7,1074.7V1072.6M256.6,1074.9V1076.6M258.4,1075.2V1078.4M259.3,1075.3V1073.5M260.2,1075.5V1077.6M261.1,1075.6V1078.0M261.3,1075.6V1077.9M262.2,1075.9V1074.9M263.1,1076.1V1075.1M264.0,1076.3V1078.6M264.9,1076.5V1078.6M266.7,1077.0V1079.8M267.6,1077.2V1080.1M268.5,1077.4V1080.1M269.4,1077.7V1079.8M270.3,1077.9V1079.6M271.2,1078.1V1080.1M273.0,1078.6V1076.7M273.1,1078.6V1077.4M274.0,1078.8V1081.0M274.9,1078.9V1081.0M275.8,1079.1V1081.0M276.7,1079.2V1082.0M277.6,1079.4V1082.0M279.4,1079.7V1081.2M280.3,1079.8V1078.6M281.2,1080.0V1078.4M282.1,1080.1V1083.0M283.0,1080.3V1082.2M283.9,1080.4V1082.5M284.8,1080.6V1083.9M285.0,1080.6V1083.9M285.9,1080.8V1082.5M288.6,1081.5V1079.5M289.5,1081.7V1080.1M290.4,1081.9V1085.2M291.3,1082.2V1080.4M292.9,1082.6V1084.7M293.8,1082.7V1081.2M294.7,1082.8V1081.8M295.6,1082.9V1084.6M296.5,1083.0V1086.2M297.4,1083.1V1085.0M298.3,1083.2V1082.1M300.1,1083.5V1085.6M301.0,1083.6V1081.7M301.9,1083.7V1085.3M303.7,1083.9V1083.0M304.6,1084.0V1086.2M305.5,1084.1V1086.6M306.4,1084.2V1083.3M308.2,1084.5V1087.6M313.1,1084.5V1089.5M313.8,1084.5V1089.5M314.6,1084.5V1089.5M315.3,1084.5V1089.5M316.1,1084.5V1087.3M316.8,1086.4V1089.5M317.6,1086.2V1089.5M318.3,1084.5V1089.5M319.1,1084.5V1089.5M319.8,1084.5V1089.5M320.6,1084.5V1089.5M321.3,1084.5V1089.5M322.1,1084.5V1087.3M322.8,1084.5V1089.5M323.6,1084.5V1089.5M324.3,1084.5V1089.5M325.1,1084.5V1089.5M325.8,1084.5V1089.5M326.6,1084.5V1089.5M327.3,1086.9V1089.5M328.1,1084.5V1089.5M329.6,1088.5V1090.5M331.1,1088.5V1090.5M334.1,1089.5V1090.5M338.6,1088.5V1090.5M340.9,1088.5V1090.5M346.9,1088.5V1090.5M348.6,1084.5V1089.5M349.3,1084.5V1089.5M350.1,1084.5V1087.6M350.8,1084.5V1088.1M351.6,1086.3V1089.5M352.3,1084.5V1089.5M353.1,1086.2V1089.5M353.8,1084.5V1089.5M354.6,1084.5V1089.5M355.3,1084.5V1091.7M356.1,1085.9V1089.5M356.8,1084.5V1089.5M357.6,1084.5V1089.5M358.3,1084.5V1087.4M359.1,1084.5V1089.5M359.8,1084.5V1089.5M360.6,1084.5V1089.5M361.3,1086.4V1089.5M362.1,1084.5V1089.5M362.8,1084.5V1087.3M363.6,1084.5V1089.5M364.3,1084.5V1089.5M365.1,1084.5V1089.5M365.8,1084.5V1091.3M366.6,1084.5V1089.5M367.3,1084.5V1089.5M368.1,1085.7V1089.5M368.8,1084.5V1089.5M369.6,1084.5V1089.5M370.3,1084.5V1089.5M371.1,1084.5V1092.2M371.8,1084.5V1089.5M372.6,1087.5V1089.5M373.3,1084.5V1086.8M374.1,1084.5V1089.5M374.8,1084.5V1089.5M375.6,1087.0V1089.5M376.3,1084.5V1089.5M377.1,1084.5V1089.5M377.8,1084.5V1089.5M378.6,1087.2V1089.5M379.3,1084.5V1089.5M380.1,1084.5V1089.5M380.8,1084.5V1089.5M381.6,1084.5V1087.8M382.3,1084.5V1088.3M383.1,1084.5V1089.5M383.8,1084.5V1089.5M384.6,1084.5V1087.9M385.3,1084.5V1089.5M386.1,1084.5V1089.5M386.8,1084.5V1089.5M387.6,1084.5V1089.5M388.3,1084.5V1089.5M389.1,1084.5V1089.5M391.7,1089.5V1090.0M393.2,1089.5V1091.0M396.9,1089.5V1093.6M399.9,1090.2V1091.0M406.7,1089.5V1091.0M407.4,1089.5V1091.0M411.9,1089.5V1091.6M412.6,1089.5V1093.4M413.4,1089.5V1093.4M414.1,1091.1V1093.4M414.9,1089.5V1092.0M415.6,1089.5V1091.5M416.4,1089.5V1093.4M417.1,1089.5V1093.4M417.9,1090.6V1093.4M418.6,1091.7V1093.4M419.4,1089.5V1093.4M420.1,1090.7V1093.4M420.9,1089.5V1093.4M421.6,1089.5V1093.4M422.4,1089.5V1093.4M423.1,1089.5V1092.5M423.9,1089.5V1093.4M424.6,1089.5V1096.2M425.4,1090.7V1093.4M426.1,1089.5V1093.4M426.9,1089.5V1093.4M427.6,1089.5V1093.4M428.4,1089.5V1093.4M429.1,1089.5V1093.4M429.9,1089.5V1093.4M430.6,1089.5V1093.4M431.4,1089.5V1091.4M432.1,1089.5V1096.3M432.9,1089.5V1093.4M433.6,1089.5V1093.4M434.4,1089.5V1091.4M435.1,1089.5V1093.4M435.9,1089.5V1091.8M436.6,1089.5V1093.4M437.4,1091.3V1096.5M438.1,1089.5V1093.4M438.9,1089.5V1093.4M439.6,1089.5V1092.3M440.4,1089.5V1093.4M441.1,1089.5V1093.4M441.9,1089.5V1093.4M442.6,1090.6V1093.4M443.4,1089.5V1093.4M444.1,1089.5V1093.4M444.9,1089.5V1093.4M446.9,1093.6V1095.6M447.6,1093.6V1095.6M449.1,1093.6V1094.8M449.9,1094.1V1095.6M451.4,1093.6V1095.6M452.1,1093.6V1095.6M453.4,1098.5V1103.5M454.1,1098.5V1103.5M454.9,1098.5V1103.5M455.6,1098.5V1102.4M456.4,1098.5V1103.5M457.1,1098.5V1103.5M457.9,1100.8V1103.5M458.6,1098.5V1105.7M459.4,1098.5V1103.5M460.1,1098.5V1103.5M460.9,1098.5V1103.5M461.6,1098.5V1103.5M462.4,1098.5V1103.5M463.1,1098.5V1100.8M463.9,1098.5V1103.5M464.6,1099.7V1103.5M465.4,1100.3V1103.5M466.1,1098.5V1103.5M466.9,1098.5V1103.5M467.6,1101.1V1103.5M468.4,1098.5V1103.5M469.1,1098.5V1103.5M469.9,1098.5V1103.5M470.6,1098.5V1106.5M471.4,1100.7V1103.5M472.1,1098.5V1103.5M472.9,1098.5V1103.5M473.6,1098.5V1103.5M474.4,1098.5V1103.5M475.1,1098.5V1105.7M475.9,1098.5V1103.5M476.6,1098.5V1103.5M477.4,1098.5V1103.5M478.1,1100.6V1103.5M478.9,1098.5V1103.5M479.6,1098.5V1103.5M480.4,1098.5V1100.8M481.1,1098.5V1100.1M481.9,1098.5V1103.5M482.6,1098.5V1101.8M483.4,1101.1V1103.5M484.1,1098.5V1103.5M484.9,1098.5V1106.1M485.6,1099.7V1103.5M486.4,1098.5V1101.7M487.1,1101.2V1103.5M487.9,1098.5V1103.5M488.6,1098.5V1106.6M489.4,1098.5V1101.5M490.1,1098.5V1103.5M490.9,1098.5V1103.5M491.6,1098.5V1103.5M492.4,1098.5V1103.5M493.1,1098.5V1103.5M493.9,1098.5V1101.6M494.6,1098.5V1102.3M495.4,1098.5V1103.5M496.1,1098.5V1101.7M496.9,1098.5V1100.3M497.6,1098.5V1103.5M498.8,1095.7V1098.5M500.3,1094.6V1096.5M501.0,1094.6V1098.5M502.5,1094.6V1098.5M503.3,1094.6V1098.5M504.8,1094.6V1098.5M506.3,1094.6V1098.5M507.0,1094.6V1098.5M507.8,1094.6V1098.5M508.5,1094.6V1096.8M510.0,1094.6V1098.5M511.5,1094.6V1096.7M512.3,1094.6V1100.7M513.0,1094.6V1098.5M513.8,1094.6V1098.5M514.5,1096.9V1098.5M515.3,1094.6V1098.5M516.0,1094.6V1098.5M517.5,1094.6V1096.9M518.3,1094.6V1097.4M519.8,1096.2V1098.5M520.5,1095.6V1098.5M522.0,1094.6V1098.5M522.8,1094.6V1098.5M523.5,1094.6V1098.5M525.8,1094.6V1096.5M526.5,1094.6V1098.5M529.5,1096.5V1098.5M530.3,1096.1V1098.5M531.0,1094.6V1098.5M531.8,1094.6V1098.5M533.3,1094.6V1098.5M535.5,1094.6V1096.9M536.3,1094.6V1098.5M537.0,1095.6V1098.5M537.8,1094.6V1098.5M540.8,1094.6V1098.5M541.5,1095.7V1098.5M542.3,1094.6V1098.5M544.5,1094.6V1098.5M545.3,1096.2V1098.5M546.0,1094.6V1098.5M546.8,1094.6V1098.5M547.5,1094.6V1098.5M548.3,1094.6V1098.5M549.0,1096.1V1098.5M551.3,1094.6V1098.5M552.0,1094.6V1098.5M556.1,1099.7V1102.5M556.9,1098.5V1100.8M557.6,1098.5V1105.0M558.4,1098.5V1102.5M559.1,1098.5V1101.1M559.9,1100.5V1102.5M560.6,1098.5V1102.5M561.4,1098.5V1102.5M562.1,1098.5V1100.2M562.9,1098.5V1102.5M563.6,1098.5V1102.5M564.4,1098.5V1102.5M565.1,1100.1V1102.5M565.9,1099.5V1102.5M566.6,1098.5V1101.3M567.4,1098.5V1102.5M568.1,1099.7V1102.5M568.9,1098.5V1102.5M569.6,1098.5V1102.5M570.4,1099.7V1102.5M571.1,1100.0V1102.5M571.9,1098.5V1102.5M572.6,1098.5V1101.1M573.4,1098.5V1105.7M574.1,1098.5V1102.5M574.9,1098.5V1102.5M575.6,1098.5V1102.5M576.4,1098.5V1102.5M577.1,1098.5V1102.5M577.9,1098.5V1102.5M578.6,1098.5V1102.5M579.4,1098.5V1102.5M580.1,1098.5V1102.5M580.9,1098.5V1100.5M581.6,1098.5V1102.5M582.4,1099.4V1102.5M583.1,1098.5V1102.5M583.9,1098.5V1102.5M584.6,1098.5V1102.5M585.4,1098.5V1102.5M586.1,1098.5V1102.5M586.9,1098.5V1100.3M587.6,1098.5V1100.4M588.4,1098.5V1101.2M589.1,1099.9V1102.5M589.9,1098.5V1101.0M590.6,1098.5V1105.0M591.4,1100.0V1102.5M592.1,1098.5V1100.6M592.9,1098.5V1102.5M593.6,1099.4V1102.5M594.4,1100.3V1102.5M595.1,1098.5V1102.5M595.9,1099.3V1102.5M596.6,1098.5V1102.5M597.4,1098.5V1102.5M598.1,1098.5V1104.8M598.9,1098.5V1102.5M599.6,1098.5V1102.5M600.4,1098.5V1100.9M601.1,1098.5V1102.5M601.9,1098.5V1102.5M602.6,1098.5V1102.5M603.4,1098.5V1102.5M604.1,1098.5V1101.0M604.9,1098.5V1102.5M605.6,1098.5V1102.5M606.4,1098.5V1102.5M607.1,1098.5V1101.1M607.9,1098.5V1100.6M608.6,1098.5V1102.5M609.4,1098.5V1102.5M610.1,1098.5V1104.6M610.9,1098.5V1102.5M611.6,1099.8V1102.5M612.4,1098.5V1099.7M613.1,1098.5V1102.5M613.9,1100.7V1102.5M614.6,1098.5V1102.5M615.4,1098.5V1102.5M616.1,1098.5V1102.5M616.9,1098.5V1100.0M617.6,1098.5V1100.6M618.4,1099.8V1102.5M619.1,1098.5V1102.5M619.9,1098.5V1102.5M620.6,1098.5V1100.4M621.4,1098.5V1102.5M622.1,1099.7V1102.5M622.9,1099.9V1102.5M623.6,1098.5V1102.5M624.4,1099.7V1102.5M625.1,1098.5V1102.5M625.9,1098.5V1102.5M626.6,1098.5V1100.5M627.4,1098.5V1102.5M628.1,1098.5V1102.5M628.9,1100.7V1102.5M629.6,1098.5V1102.5M630.4,1098.5V1102.5M631.1,1100.2V1102.5M631.9,1098.5V1104.9M632.6,1098.5V1100.2M633.4,1098.5V1101.5M634.1,1098.5V1104.7M634.9,1098.5V1102.5M635.6,1098.5V1101.2M636.4,1098.5V1102.5M637.1,1098.5V1102.5M637.9,1098.5V1102.5M638.6,1098.5V1102.5M639.4,1098.5V1104.6M640.1,1100.5V1102.5M640.9,1098.5V1102.5M641.6,1098.5V1102.5M642.4,1098.5V1102.5M643.1,1098.5V1102.5M643.9,1098.5V1100.6M644.6,1098.5V1102.5M645.4,1098.5V1102.5M646.1,1099.6V1102.5M646.9,1098.5V1102.5M647.6,1098.5V1102.5M648.4,1098.5V1102.5M649.1,1099.4V1102.5M649.9,1100.7V1102.5M650.6,1098.5V1100.8M651.4,1100.4V1102.5M652.1,1098.5V1104.1M652.9,1100.0V1102.5M653.6,1098.5V1102.5M654.4,1098.5V1100.2M655.1,1098.5V1102.5M655.9,1098.5V1102.5M656.6,1098.5V1102.5M657.4,1098.5V1102.5M658.1,1099.9V1102.5M658.9,1098.5V1102.5M659.6,1098.5V1102.5M660.4,1098.5V1102.5M661.1,1099.5V1102.5M661.9,1100.1V1102.5M662.6,1098.5V1102.5M663.4,1098.5V1102.5M664.1,1098.5V1100.1M664.9,1098.5V1102.5M665.6,1099.3V1102.5M666.4,1098.5V1102.5M667.1,1098.5V1102.5M667.9,1098.5V1102.5M668.6,1098.5V1102.5M669.4,1098.5V1102.5M670.1,1098.5V1102.5M670.9,1098.5V1102.5M671.6,1098.5V1101.5M672.4,1098.5V1100.7M673.1,1099.7V1102.5M673.9,1098.5V1102.5M674.6,1100.7V1102.5M675.4,1098.5V1101.6M676.1,1098.5V1102.5M676.9,1098.5V1102.5M677.6,1099.8V1102.5M678.4,1100.2V1102.5M679.1,1098.5V1100.4M679.9,1098.5V1102.5M680.6,1098.5V1106.0M681.4,1099.3V1104.4M682.1,1098.5V1102.5M682.9,1098.5V1100.0M683.6,1098.5V1104.8M684.4,1098.5V1100.0M685.1,1098.5V1102.5M685.9,1098.5V1102.5M686.6,1098.5V1100.4M687.4,1098.5V1102.5M688.1,1098.5V1102.5M688.9,1098.5V1101.2M689.6,1098.5V1102.5M690.4,1098.5V1104.4M691.1,1098.5V1104.3M691.9,1098.5V1102.5M692.6,1098.5V1102.5M693.4,1098.5V1102.5M694.1,1098.5V1102.5M694.9,1098.5V1100.3M695.6,1098.5V1102.5M696.4,1098.5V1102.5M697.1,1098.5V1102.5M697.9,1098.5V1101.0M698.6,1098.5V1102.5M699.4,1099.6V1102.5M700.1,1098.5V1102.5M700.9,1099.8V1102.5M701.6,1098.5V1100.6M702.4,1099.9V1102.5M703.1,1098.5V1105.5M703.9,1099.5V1102.5M704.6,1098.5V1102.5M705.4,1098.5V1102.5M706.1,1098.5V1102.5M706.9,1098.5V1102.5M707.6,1098.5V1100.0M708.4,1098.5V1102.5M709.1,1098.5V1102.5M709.9,1098.5V1102.5M710.6,1098.5V1101.4M711.4,1099.8V1102.5M712.1,1098.5V1102.5M712.9,1098.5V1100.1M713.6,1098.5V1102.5M714.4,1098.5V1102.5M715.1,1098.5V1102.5M715.9,1100.8V1102.5M716.6,1098.5V1102.5M717.4,1098.5V1102.5M718.2,1101.5V1107.4M718.9,1101.5V1107.4M720.4,1101.5V1107.4M721.2,1103.8V1107.4M721.9,1101.5V1107.4M722.7,1101.5V1107.4M723.4,1104.0V1107.4M724.2,1101.5V1107.4M724.9,1101.5V1107.4M725.7,1101.5V1107.4M726.4,1101.5V1106.1M727.2,1101.5V1107.4M727.9,1101.5V1107.4M728.7,1101.5V1107.4M730.2,1101.5V1107.4M730.9,1101.5V1109.2M731.7,1104.6V1109.0M732.4,1101.5V1107.4M733.2,1104.5V1107.4M733.9,1101.5V1107.4M734.7,1101.5V1107.4M736.2,1101.5V1107.4M736.9,1101.5V1107.4M737.7,1101.5V1104.0M738.4,1101.5V1107.4M739.2,1101.5V1107.4M739.9,1101.5V1107.4M740.7,1101.5V1107.4M741.4,1101.5V1107.4M742.9,1101.5V1103.4M743.7,1104.0V1107.4M744.4,1103.5V1107.4M745.2,1101.5V1107.4M745.9,1101.5V1107.4M746.7,1101.5V1110.9M747.4,1101.5V1105.5M748.2,1101.5V1107.4M748.9,1101.5V1106.0M749.7,1104.0V1107.4M750.4,1101.5V1104.8M751.2,1101.5V1103.5M751.9,1101.5V1107.4M752.7,1101.5V1107.4M753.4,1101.5V1107.4M754.9,1101.5V1107.4M755.7,1103.0V1107.4M756.4,1101.5V1107.4M757.2,1101.5V1104.9M757.9,1101.5V1107.4M758.7,1101.5V1106.2M760.2,1101.5V1107.4M760.9,1101.5V1107.4M761.7,1102.8V1107.4M762.4,1101.5V1108.9M763.2,1101.5V1107.4M763.9,1101.5V1105.1M764.7,1101.5V1104.1M765.4,1104.3V1107.4M766.2,1101.5V1110.8M766.9,1103.8V1107.4M767.7,1103.2V1109.0M768.4,1101.5V1107.4M769.2,1101.5V1107.4M769.9,1101.5V1107.4M770.7,1104.0V1107.4M771.4,1101.5V1107.4M772.2,1104.5V1107.4M772.9,1101.5V1107.4M773.7,1101.5V1105.4M774.4,1104.4V1107.4M775.2,1104.1V1107.4M775.9,1103.7V1107.4M776.7,1101.5V1107.4M777.4,1104.4V1110.6M778.2,1101.5V1107.4M778.9,1101.5V1107.4M779.7,1101.5V1107.4M780.4,1101.5V1107.4M781.2,1101.5V1107.4M781.9,1101.5V1107.4" stroke="#067006" stroke-width="1.05" fill="none"/><path d="M347.3,1090.1V1081.6M411.0,1091.0V1067.7M768.2,1103.5V1080.8" stroke="#067006" stroke-width="1.3" fill="none" opacity="0.8"/><path d="M121.3,936.5 L121.3,945.3" stroke="#067006" stroke-width="1.5" fill="none" opacity="0.7"/><path d="M121.3,1083.4 L126.2,1086.4 L131.0,1085.9 L135.8,1083.4 L142.3,1079.4 L148.8,1074.6 L155.2,1070.5 L161.7,1066.5 L168.1,1062.5 L174.6,1058.4 L181.1,1055.2 L187.5,1052.0 L194.0,1048.7 L200.5,1045.5 L206.9,1042.7 L213.4,1039.8 L219.8,1037.4 L226.3,1035.0 L232.8,1032.6 L239.2,1030.1 L248.9,1026.9 L255.4,1025.0 L265.1,1022.1 L271.5,1018.8 L281.2,1015.6 L287.7,1014.0 L297.4,1012.4 L303.8,1010.8 L313.5,1009.1 L320.0,1007.5 L329.7,1005.1 L330.0,1006.5 L335.1,1003.1 L345.3,1002.8 L348.7,998.4 L363.9,998.0 L365.6,996.3 L369.0,998.0 L379.2,995.5 L387.7,994.6 L394.5,992.9 L404.6,991.2 L406.3,993.8 L409.7,994.3 L414.8,990.9 L416.5,989.2 L435.2,989.2 L438.5,987.8 L452.1,987.5 L455.5,985.3 L456.4,987.8 L470.8,987.8 L473.3,985.3 L496.2,985.3 L501.3,980.7 L525.0,980.7 L526.7,979.4 L536.9,979.4 L538.6,981.4 L540.3,979.4 L557.3,978.5 L560.2,978.5 L570.4,978.5 L572.0,976.8 L580.5,976.0 L583.9,975.1 L592.4,975.1 L594.1,973.9 L617.8,973.9 L621.2,972.6 L626.3,972.6 L629.7,974.3 L634.8,974.3 L638.2,972.2 L648.4,972.2 L651.8,970.0 L660.2,970.0 L663.6,972.6 L672.1,974.3 L675.5,972.6 L677.2,970.5 L707.7,970.5 L709.4,967.8 L714.5,967.8 L717.9,970.5 L763.7,970.5 L767.1,968.3 L775.6,968.3 L778.1,970.5 L782.4,970.5" stroke="#ff0000" stroke-width="1.5" fill="none" stroke-linejoin="round"/>
<path d="M993.4,713.3H1658.6M993.4,757.7H1658.6M993.4,802.1H1658.6M993.4,846.4H1658.6M993.4,890.8H1658.6M993.4,935.2H1658.6M993.4,979.6H1658.6M993.4,1024.0H1658.6M993.4,1068.3H1658.6M993.4,1112.7H1658.6" stroke="#8a8a8a" stroke-width="1.9" stroke-dasharray="2.3 1" fill="none"/><path d="M1059.9,713.3V1157.1M1126.4,713.3V1157.1M1193.0,713.3V1157.1M1259.5,713.3V1157.1M1326.0,713.3V1157.1M1392.5,713.3V1157.1M1459.0,713.3V1157.1M1525.6,713.3V1157.1M1592.1,713.3V1157.1" stroke="#707070" stroke-width="1.6" stroke-dasharray="2 1" fill="none"/><path d="M993.4,713.3 V1157.1 H1658.6 V713.3" stroke="#555" stroke-width="1.9" fill="none"/>
<path d="M994.0,1051.9 L994.0,1055.8 L996.9,1059.8 L997.9,1064.7 L1000.9,1065.7 L1003.8,1068.7 L1004.8,1072.6 L1012.7,1073.6 L1013.7,1076.6 L1025.6,1077.6 L1026.6,1081.5 L1049.3,1081.5 L1049.3,1081.5 L1049.3,1083.5 L1064.1,1083.5 L1064.1,1083.5 L1064.1,1078.6 L1082.9,1078.6 L1082.9,1078.6 L1082.9,1081.8 L1099.7,1081.8 L1099.7,1081.8 L1099.7,1083.5 L1126.4,1083.5 L1126.4,1083.5 L1126.4,1083.5 L1146.2,1083.5 L1146.2,1083.5 L1146.2,1092.4 L1179.8,1092.4 L1179.8,1092.4 L1179.8,1091.4 L1245.0,1091.4 L1245.0,1091.4 L1245.0,1096.3 L1320.0,1096.3 L1320.0,1096.3 L1320.0,1096.0 L1344.0,1096.0 L1344.0,1096.0 L1344.0,1099.3 L1392.0,1099.3 L1392.0,1099.3 L1392.0,1100.0 L1520.6,1100.0 L1520.6,1100.0 L1520.6,1101.0 L1580.7,1101.0 L1580.7,1101.0 L1580.7,1104.0 L1658.0,1104.0" stroke="#067006" stroke-width="1.35" fill="none" stroke-linejoin="miter" stroke-miterlimit="2"/><path d="M994.0,1055.8V1058.1M994.9,1057.0V1055.4M995.8,1058.3V1060.0M996.7,1059.5V1061.3M996.9,1059.8V1057.7M997.8,1064.2V1065.7M997.9,1064.7V1062.9M998.8,1065.0V1063.8M999.7,1065.3V1068.6M1000.6,1065.6V1069.0M1002.7,1067.6V1070.2M1003.6,1068.5V1070.3M1003.8,1068.7V1070.5M1004.7,1072.2V1075.2M1004.8,1072.6V1070.6M1006.6,1072.8V1075.9M1007.5,1072.9V1074.5M1008.4,1073.1V1076.0M1009.3,1073.2V1076.1M1010.2,1073.3V1075.9M1011.1,1073.4V1072.2M1012.0,1073.5V1075.9M1012.7,1073.6V1075.5M1013.6,1076.3V1074.5M1013.7,1076.6V1079.2M1015.5,1076.8V1075.1M1016.4,1076.8V1074.8M1017.3,1076.9V1080.1M1018.2,1077.0V1078.7M1019.1,1077.1V1079.7M1020.9,1077.2V1075.5M1021.8,1077.3V1076.0M1023.6,1077.4V1079.7M1024.5,1077.5V1080.0M1025.6,1077.6V1080.6M1028.4,1081.5V1084.9M1030.2,1081.5V1083.7M1031.1,1081.5V1083.4M1032.0,1081.5V1080.2M1036.5,1081.5V1084.8M1037.4,1081.5V1084.6M1038.3,1081.5V1083.2M1039.2,1081.5V1084.1M1040.1,1081.5V1083.4M1041.0,1081.5V1084.8M1043.7,1081.5V1083.1M1046.4,1081.5V1083.8M1047.3,1081.5V1079.8M1048.2,1081.5V1083.9M1049.1,1081.5V1080.2M1049.7,1082.5V1086.5M1050.5,1082.5V1086.5M1051.2,1084.0V1086.5M1052.0,1082.5V1085.6M1052.7,1082.5V1086.5M1053.5,1082.5V1085.3M1054.2,1082.5V1086.5M1055.0,1082.5V1084.1M1055.7,1082.5V1086.5M1056.5,1083.9V1086.5M1057.2,1082.5V1086.5M1058.0,1083.5V1086.5M1058.7,1082.5V1084.6M1059.5,1084.2V1086.5M1060.2,1082.5V1088.3M1061.0,1082.5V1086.5M1061.7,1082.5V1089.9M1062.5,1082.5V1088.7M1063.2,1082.5V1088.2M1064.0,1082.5V1086.5M1064.5,1077.6V1081.5M1065.2,1077.6V1081.5M1066.0,1077.6V1081.5M1066.8,1077.6V1081.5M1067.5,1077.6V1081.5M1068.2,1079.1V1081.5M1069.0,1077.6V1081.5M1069.8,1077.6V1081.5M1070.5,1077.6V1081.5M1071.2,1077.6V1081.5M1072.0,1077.6V1080.7M1072.8,1079.0V1081.5M1073.5,1077.6V1081.5M1074.2,1077.6V1081.5M1075.0,1077.6V1081.5M1075.8,1077.6V1079.9M1076.5,1077.6V1078.9M1077.2,1077.6V1078.8M1078.0,1077.6V1081.5M1078.8,1077.6V1081.5M1079.5,1077.6V1081.5M1080.2,1077.6V1081.5M1081.0,1077.6V1081.5M1081.8,1079.4V1083.9M1082.5,1078.6V1081.5M1084.8,1081.5V1082.5M1087.8,1081.5V1085.6M1089.3,1081.5V1085.9M1090.1,1081.5V1082.0M1092.3,1081.5V1082.1M1094.6,1081.5V1084.4M1095.3,1081.5V1082.5M1096.1,1081.5V1082.5M1098.3,1081.7V1082.5M1100.1,1082.5V1086.5M1100.9,1082.5V1086.5M1101.6,1082.5V1083.9M1102.4,1082.5V1086.5M1103.1,1082.5V1086.5M1103.9,1082.5V1084.4M1104.6,1082.5V1086.5M1105.4,1082.5V1086.5M1106.1,1082.5V1089.6M1106.9,1084.8V1086.5M1107.6,1082.5V1085.2M1108.4,1082.5V1088.9M1109.1,1083.8V1086.5M1109.9,1082.5V1084.7M1110.6,1082.5V1085.2M1111.4,1082.5V1085.2M1112.1,1084.3V1086.5M1112.9,1082.5V1086.5M1113.6,1082.5V1086.5M1114.4,1082.5V1086.5M1115.1,1082.5V1086.5M1115.9,1082.5V1086.5M1116.6,1084.7V1086.5M1117.4,1082.5V1086.5M1118.1,1082.5V1085.7M1118.9,1082.5V1085.6M1119.6,1082.5V1086.5M1120.4,1082.5V1086.5M1121.1,1082.5V1086.5M1121.9,1082.5V1086.5M1122.6,1082.5V1084.7M1123.4,1082.5V1083.9M1124.1,1082.5V1086.5M1124.9,1082.5V1085.1M1125.6,1082.5V1086.5M1126.4,1082.5V1085.4M1127.6,1082.5V1089.4M1128.3,1084.2V1089.4M1130.6,1082.5V1089.4M1131.3,1084.6V1089.4M1132.1,1082.5V1089.4M1132.8,1082.5V1089.4M1133.6,1082.5V1089.4M1134.3,1084.7V1089.4M1135.8,1084.5V1089.4M1136.6,1085.4V1089.4M1137.3,1085.5V1089.4M1138.8,1082.5V1087.9M1139.6,1086.5V1089.4M1140.3,1082.5V1085.9M1141.1,1085.3V1089.4M1142.6,1082.5V1089.4M1143.3,1082.5V1091.5M1144.1,1086.2V1089.4M1144.8,1082.5V1088.0M1145.6,1082.5V1089.4M1146.6,1091.4V1095.3M1147.4,1091.4V1095.3M1150.4,1091.4V1095.3M1151.1,1091.4V1095.3M1151.9,1091.4V1095.3M1152.6,1091.4V1095.3M1153.4,1091.4V1095.3M1154.1,1092.7V1095.3M1154.9,1091.4V1092.7M1155.6,1091.4V1095.3M1156.4,1091.4V1094.1M1157.1,1092.5V1095.3M1159.4,1091.4V1095.3M1160.1,1091.4V1093.0M1161.6,1091.4V1092.6M1162.4,1091.4V1095.3M1163.1,1092.4V1095.3M1164.6,1091.4V1095.3M1165.4,1091.4V1094.4M1166.9,1091.4V1092.6M1169.1,1091.4V1095.3M1169.9,1093.3V1095.3M1173.6,1091.4V1095.3M1175.1,1092.6V1095.3M1175.9,1091.4V1095.3M1176.6,1091.4V1095.3M1177.4,1091.4V1095.3M1179.6,1091.4V1093.2M1180.2,1090.4V1095.3M1181.0,1090.4V1095.3M1181.7,1091.6V1095.3M1182.5,1090.4V1092.1M1183.2,1090.4V1093.7M1184.7,1090.4V1095.3M1185.5,1090.4V1098.8M1186.2,1092.5V1095.3M1187.0,1090.4V1095.3M1187.7,1090.4V1095.3M1188.5,1090.4V1095.3M1189.2,1090.4V1095.3M1190.0,1093.0V1095.3M1190.7,1090.4V1095.3M1191.5,1090.4V1095.3M1192.2,1092.2V1095.3M1193.0,1090.4V1095.3M1193.7,1090.4V1095.3M1194.5,1090.4V1095.3M1195.2,1090.4V1095.3M1196.0,1090.4V1095.3M1197.5,1090.4V1097.5M1198.2,1090.4V1094.2M1199.0,1090.4V1095.3M1199.7,1090.4V1095.3M1200.5,1090.4V1095.3M1201.2,1092.0V1095.3M1202.0,1090.4V1095.3M1202.7,1090.4V1095.3M1203.5,1090.4V1095.3M1204.2,1091.7V1095.3M1205.0,1090.4V1095.3M1205.7,1092.5V1095.3M1206.5,1090.4V1095.3M1208.0,1090.4V1095.3M1208.7,1090.4V1095.3M1210.2,1090.4V1095.3M1211.7,1090.4V1092.7M1212.5,1090.4V1095.3M1213.2,1092.8V1095.3M1214.0,1090.4V1095.3M1214.7,1090.4V1095.3M1216.2,1090.4V1095.3M1217.0,1090.4V1095.3M1217.7,1090.4V1095.3M1218.5,1090.4V1095.3M1219.2,1090.4V1095.3M1220.0,1092.0V1095.3M1220.7,1090.4V1093.5M1221.5,1090.4V1095.3M1222.2,1090.4V1092.6M1223.0,1090.4V1095.3M1223.7,1090.4V1095.3M1224.5,1090.4V1095.3M1225.2,1092.3V1095.3M1226.0,1091.6V1095.3M1226.7,1090.4V1095.3M1227.5,1090.4V1095.3M1228.2,1090.4V1095.3M1229.7,1090.4V1094.3M1230.5,1090.4V1095.3M1231.2,1090.4V1093.0M1232.0,1090.4V1096.8M1232.7,1090.4V1095.3M1233.5,1090.4V1093.1M1234.2,1090.4V1094.1M1235.0,1090.4V1095.3M1235.7,1092.3V1095.3M1236.5,1090.4V1095.3M1237.2,1090.4V1095.3M1238.7,1090.4V1095.3M1239.5,1090.4V1095.3M1240.2,1090.4V1098.1M1241.0,1090.4V1095.3M1241.7,1090.4V1095.3M1242.5,1092.0V1095.3M1243.2,1093.3V1095.3M1244.0,1090.4V1095.3M1244.7,1093.0V1095.3M1245.4,1095.3V1099.3M1246.2,1095.3V1099.3M1246.9,1095.3V1099.3M1248.4,1095.3V1097.7M1249.2,1097.1V1099.3M1249.9,1095.3V1099.3M1250.7,1095.3V1099.3M1252.2,1095.3V1099.3M1252.9,1097.3V1099.3M1253.7,1095.3V1099.3M1254.4,1095.3V1099.3M1255.2,1095.3V1097.1M1255.9,1095.3V1099.3M1256.7,1095.3V1099.3M1257.4,1095.3V1099.3M1258.2,1095.3V1099.3M1258.9,1096.3V1099.3M1259.7,1095.3V1099.3M1260.4,1095.3V1099.3M1262.7,1095.3V1099.3M1263.4,1095.3V1097.2M1264.2,1096.5V1099.3M1264.9,1095.3V1099.3M1265.7,1095.3V1096.9M1266.4,1095.3V1096.9M1267.2,1097.3V1099.3M1267.9,1095.3V1099.3M1268.7,1095.3V1099.3M1269.4,1095.3V1102.1M1270.2,1095.3V1099.3M1270.9,1095.3V1099.3M1271.7,1095.3V1099.3M1273.2,1095.3V1099.3M1273.9,1096.8V1099.3M1275.4,1095.3V1099.3M1276.2,1095.3V1099.3M1277.7,1095.3V1099.3M1279.2,1095.3V1097.9M1279.9,1095.3V1098.5M1280.7,1095.3V1099.3M1282.9,1095.3V1097.2M1283.7,1095.3V1099.3M1285.2,1095.3V1099.3M1285.9,1095.3V1099.3M1286.7,1095.3V1097.2M1287.4,1095.3V1099.3M1288.2,1095.3V1101.4M1288.9,1095.3V1099.3M1289.7,1095.3V1099.3M1290.4,1095.3V1099.3M1291.2,1095.3V1099.3M1293.4,1095.3V1097.2M1294.2,1095.3V1099.3M1296.4,1095.3V1096.8M1297.2,1097.0V1099.3M1297.9,1095.3V1099.3M1298.7,1097.5V1099.3M1299.4,1095.3V1099.3M1300.2,1095.3V1098.0M1300.9,1095.3V1097.7M1301.7,1095.3V1099.3M1302.4,1096.7V1099.3M1303.2,1095.3V1097.9M1303.9,1095.3V1099.3M1305.4,1095.3V1099.3M1306.2,1096.8V1099.3M1306.9,1095.3V1097.9M1307.7,1095.3V1096.8M1308.4,1095.3V1098.5M1309.2,1095.3V1099.3M1310.7,1096.6V1099.3M1311.4,1095.3V1099.3M1312.2,1095.3V1099.3M1312.9,1096.6V1099.3M1313.7,1095.3V1099.3M1314.4,1096.2V1099.3M1315.2,1095.3V1099.3M1315.9,1095.3V1098.1M1316.7,1096.5V1099.3M1317.4,1095.3V1099.3M1318.2,1095.3V1102.1M1318.9,1095.3V1098.3M1320.4,1095.0V1099.0M1321.2,1095.0V1099.0M1321.9,1095.0V1096.7M1322.7,1095.0V1099.0M1323.4,1095.0V1099.0M1324.2,1095.0V1097.1M1324.9,1095.0V1099.0M1325.7,1095.0V1099.0M1326.4,1095.0V1099.0M1327.2,1095.0V1099.0M1327.9,1095.0V1099.0M1328.7,1095.0V1099.0M1329.4,1095.0V1099.0M1330.2,1095.0V1099.0M1330.9,1095.0V1099.0M1331.7,1097.4V1099.0M1332.4,1095.0V1099.0M1333.2,1095.0V1097.4M1333.9,1095.0V1099.0M1334.7,1095.0V1099.0M1335.4,1096.5V1099.0M1336.2,1095.0V1099.0M1336.9,1095.0V1099.0M1337.7,1095.0V1099.0M1338.4,1095.0V1099.0M1339.2,1095.0V1101.6M1339.9,1095.0V1099.0M1340.7,1096.3V1099.0M1341.4,1095.0V1099.0M1342.2,1095.0V1099.0M1342.9,1095.0V1099.0M1343.7,1095.0V1099.0M1345.9,1099.0V1100.0M1346.7,1099.0V1100.0M1351.9,1099.0V1100.0M1358.7,1099.0V1100.0M1360.9,1099.0V1100.0M1365.4,1099.0V1100.0M1367.7,1099.0V1100.0M1371.4,1099.0V1100.0M1375.2,1099.0V1100.0M1375.9,1099.0V1099.8M1392.4,1099.0V1104.0M1393.2,1099.0V1104.0M1393.9,1099.0V1104.0M1394.7,1099.0V1104.0M1395.4,1100.6V1104.0M1396.2,1099.0V1100.9M1396.9,1101.9V1104.0M1397.7,1099.0V1104.0M1398.4,1099.0V1104.0M1399.2,1099.0V1104.0M1399.9,1099.0V1106.2M1400.7,1099.0V1104.0M1401.4,1099.0V1104.0M1402.2,1099.0V1104.0M1402.9,1099.0V1102.8M1403.7,1100.0V1104.0M1404.4,1099.0V1104.0M1405.2,1099.0V1104.0M1405.9,1099.0V1100.8M1406.7,1099.0V1102.0M1407.4,1100.2V1104.0M1408.2,1099.0V1104.0M1408.9,1099.0V1104.0M1409.7,1101.3V1104.0M1410.4,1099.0V1104.0M1411.2,1100.2V1104.0M1411.9,1099.0V1104.0M1412.7,1099.0V1104.0M1413.4,1099.0V1104.0M1414.2,1099.0V1104.0M1414.9,1099.0V1100.6M1415.7,1099.0V1104.0M1416.4,1099.0V1104.0M1417.2,1099.0V1102.1M1417.9,1102.0V1104.0M1418.7,1099.0V1104.0M1419.4,1100.5V1104.0M1420.2,1099.0V1104.0M1420.9,1099.0V1105.5M1421.7,1099.0V1102.3M1422.4,1099.0V1104.0M1423.2,1099.0V1104.0M1423.9,1099.0V1104.0M1424.7,1099.0V1104.0M1425.4,1099.0V1104.0M1426.2,1099.0V1102.0M1426.9,1099.0V1104.0M1427.7,1099.0V1104.0M1428.4,1099.0V1104.0M1429.2,1099.0V1104.0M1429.9,1099.0V1104.0M1430.7,1099.0V1104.0M1431.4,1101.9V1104.0M1432.2,1099.0V1104.0M1432.9,1099.0V1104.0M1433.7,1099.0V1104.0M1434.4,1099.0V1104.0M1435.2,1099.0V1101.4M1435.9,1101.1V1104.0M1436.7,1099.0V1104.0M1437.4,1099.0V1104.0M1438.2,1099.0V1104.0M1438.9,1099.0V1101.4M1439.7,1099.0V1104.0M1440.4,1099.0V1104.0M1441.2,1099.0V1104.0M1441.9,1099.0V1104.0M1442.7,1099.0V1104.0M1443.4,1099.0V1104.0M1444.2,1101.4V1104.0M1444.9,1099.0V1104.0M1445.7,1099.0V1104.0M1446.4,1099.0V1105.6M1447.2,1099.0V1101.9M1447.9,1099.0V1104.0M1448.7,1099.0V1104.0M1449.4,1099.0V1104.0M1450.2,1099.0V1104.0M1450.9,1099.0V1104.0M1451.7,1099.0V1104.0M1452.4,1099.0V1104.0M1453.2,1099.0V1104.0M1453.9,1099.0V1107.0M1454.7,1099.0V1104.0M1455.4,1099.0V1104.0M1456.2,1099.0V1104.0M1456.9,1099.0V1104.0M1457.7,1099.0V1101.7M1458.4,1099.0V1104.0M1459.2,1099.0V1101.4M1459.9,1099.0V1104.0M1460.7,1100.2V1104.0M1461.4,1100.7V1104.0M1462.2,1099.0V1107.3M1462.9,1099.0V1104.0M1463.7,1099.0V1104.0M1464.4,1099.0V1104.0M1465.2,1099.0V1104.0M1465.9,1099.0V1104.0M1466.7,1099.0V1104.0M1467.4,1101.8V1104.0M1468.2,1101.1V1104.0M1468.9,1099.0V1104.0M1469.7,1099.0V1106.1M1470.4,1099.0V1104.0M1471.2,1101.2V1104.0M1471.9,1099.0V1104.0M1472.7,1099.0V1102.7M1473.4,1099.0V1104.0M1474.2,1099.0V1104.0M1474.9,1102.0V1104.0M1475.7,1099.0V1104.0M1476.4,1099.0V1104.0M1477.2,1099.0V1100.7M1477.9,1099.0V1103.0M1478.7,1099.0V1104.0M1479.4,1099.0V1104.0M1480.2,1099.0V1104.0M1480.9,1099.0V1105.5M1481.7,1099.0V1104.0M1482.4,1099.0V1104.0M1483.2,1099.0V1104.0M1483.9,1099.0V1104.0M1484.7,1099.0V1101.5M1485.4,1099.0V1104.0M1486.2,1099.0V1104.0M1486.9,1099.0V1104.0M1487.7,1099.0V1104.0M1488.4,1099.0V1102.4M1489.2,1099.0V1104.0M1489.9,1099.0V1104.0M1490.7,1099.0V1104.0M1491.4,1099.0V1101.5M1492.2,1099.0V1104.0M1492.9,1099.0V1104.0M1493.7,1101.6V1104.0M1494.4,1099.0V1102.7M1495.2,1100.5V1104.0M1495.9,1099.0V1104.0M1496.7,1099.0V1104.0M1497.4,1101.0V1104.0M1498.2,1099.0V1104.0M1498.9,1099.0V1104.0M1499.7,1101.5V1104.0M1500.4,1099.0V1103.0M1501.2,1099.0V1104.0M1501.9,1099.0V1104.0M1502.7,1100.2V1104.0M1503.4,1099.0V1104.0M1504.2,1099.0V1104.0M1504.9,1099.0V1104.0M1505.7,1099.0V1101.9M1506.4,1099.0V1104.0M1507.2,1099.0V1104.0M1507.9,1099.0V1104.0M1508.7,1099.0V1104.0M1509.4,1101.4V1104.0M1510.2,1099.0V1101.7M1510.9,1099.0V1104.0M1511.7,1099.0V1106.1M1512.4,1099.0V1104.0M1513.2,1099.0V1102.0M1513.9,1099.0V1104.0M1514.7,1099.0V1104.0M1515.4,1099.0V1104.0M1516.2,1099.0V1104.0M1516.9,1099.0V1104.0M1517.7,1099.0V1104.0M1518.4,1099.0V1104.0M1519.2,1099.0V1101.1M1519.9,1099.0V1104.0M1521.8,1100.0V1105.0M1522.5,1100.0V1105.0M1523.2,1100.0V1102.7M1524.8,1102.4V1105.0M1525.5,1100.0V1105.0M1526.2,1100.0V1102.4M1527.8,1100.0V1105.0M1528.5,1100.0V1105.0M1529.2,1100.0V1102.6M1530.8,1100.0V1105.0M1532.2,1100.0V1103.0M1533.0,1100.0V1105.0M1534.5,1100.0V1103.1M1535.2,1102.9V1105.0M1536.0,1102.4V1105.0M1536.8,1100.0V1105.0M1537.5,1102.5V1105.0M1538.2,1100.0V1105.0M1539.0,1100.0V1105.0M1540.5,1100.0V1103.1M1541.2,1100.0V1105.0M1542.8,1102.1V1105.0M1543.5,1100.0V1105.0M1544.2,1100.0V1101.8M1545.0,1100.0V1101.8M1545.8,1100.0V1105.0M1546.5,1100.0V1103.2M1547.2,1100.0V1105.0M1548.0,1100.0V1105.0M1548.8,1102.9V1105.0M1549.5,1100.0V1105.0M1551.0,1101.9V1105.0M1551.8,1100.0V1105.0M1552.5,1100.0V1105.0M1553.2,1100.0V1105.0M1554.8,1100.0V1105.0M1557.0,1100.0V1103.9M1563.0,1101.6V1105.0M1564.5,1101.9V1105.0M1565.2,1100.0V1105.0M1566.0,1100.0V1103.5M1566.8,1100.0V1105.0M1568.2,1100.0V1102.8M1569.0,1100.0V1105.0M1570.5,1100.0V1105.0M1571.2,1100.0V1103.3M1572.0,1100.0V1103.6M1572.8,1100.0V1105.0M1574.2,1100.0V1103.0M1575.0,1100.0V1106.7M1575.8,1100.0V1105.0M1576.5,1100.0V1105.0M1577.2,1101.3V1105.0M1578.0,1100.0V1105.0M1579.5,1100.0V1105.0M1581.1,1105.3V1108.0M1581.9,1103.0V1104.8M1582.6,1105.7V1108.0M1583.4,1103.0V1111.3M1584.1,1103.0V1108.0M1584.9,1105.1V1108.0M1585.6,1103.0V1110.0M1586.4,1104.8V1110.8M1587.1,1104.7V1108.0M1587.9,1103.0V1108.0M1588.6,1103.0V1106.4M1589.4,1104.9V1108.0M1590.1,1103.0V1105.6M1590.9,1103.0V1110.6M1591.6,1103.0V1108.0M1592.4,1103.0V1108.0M1593.1,1103.0V1105.8M1593.9,1103.0V1108.0M1594.6,1103.0V1108.0M1595.4,1105.8V1108.0M1596.1,1103.0V1108.0M1596.9,1103.0V1108.0M1597.6,1103.0V1108.0M1598.4,1105.2V1108.0M1599.1,1104.8V1108.0M1599.9,1103.0V1108.0M1600.6,1103.0V1105.6M1601.4,1103.0V1108.0M1602.1,1103.0V1108.0M1602.9,1103.0V1104.7M1603.6,1105.9V1108.0M1604.4,1105.7V1108.0M1605.1,1103.0V1108.0M1605.9,1103.0V1111.4M1606.6,1103.0V1108.0M1607.4,1103.0V1108.0M1608.1,1103.0V1108.0M1608.9,1103.0V1108.0M1609.6,1103.0V1108.0M1610.4,1105.8V1108.0M1611.1,1103.0V1105.6M1611.9,1103.0V1110.1M1612.6,1103.0V1108.0M1613.4,1103.0V1108.0M1614.1,1103.0V1108.0M1614.9,1103.0V1106.8M1615.6,1103.0V1105.0M1616.4,1103.0V1104.8M1617.1,1103.0V1107.0M1617.9,1103.0V1108.0M1618.6,1103.0V1108.0M1619.4,1103.0V1108.0M1620.1,1104.4V1108.0M1620.9,1103.0V1106.7M1621.6,1103.0V1108.0M1622.4,1103.0V1108.0M1623.1,1103.0V1105.8M1623.9,1103.0V1105.2M1624.6,1103.0V1108.0M1625.4,1103.0V1108.0M1626.1,1103.0V1108.0M1626.9,1103.0V1106.5M1627.6,1103.0V1105.1M1628.4,1104.7V1108.0M1629.1,1103.0V1106.8M1629.9,1103.0V1108.0M1630.6,1103.0V1108.0M1631.4,1103.0V1108.0M1632.1,1103.0V1108.0M1632.9,1103.0V1105.9M1633.6,1103.0V1111.1M1634.4,1103.0V1108.0M1635.1,1103.0V1108.0M1635.9,1103.0V1108.0M1636.6,1103.0V1108.0M1637.4,1103.0V1108.0M1638.1,1103.0V1108.0M1638.9,1103.0V1105.2M1639.6,1105.5V1108.0M1640.4,1103.0V1108.0M1641.1,1103.0V1105.8M1641.9,1103.0V1108.0M1642.6,1103.0V1108.0M1643.4,1103.0V1108.0M1644.1,1103.0V1108.0M1644.9,1103.0V1108.0M1645.6,1104.1V1108.0M1646.4,1103.0V1110.0M1647.1,1104.4V1108.0M1647.9,1103.0V1110.2M1648.6,1103.0V1108.0M1649.4,1103.0V1108.0M1650.1,1103.0V1108.0M1650.9,1103.0V1108.0M1651.6,1104.0V1108.0M1652.4,1103.0V1108.0M1653.1,1103.0V1105.7M1653.9,1103.0V1106.3M1654.6,1103.0V1105.5M1655.4,1103.0V1108.0M1656.1,1103.0V1108.0M1656.9,1103.0V1108.0M1657.6,1103.0V1108.0" stroke="#067006" stroke-width="1.05" fill="none"/><path d="" stroke="#067006" stroke-width="1.3" fill="none" opacity="0.8"/><path d="M993.9,1008.3 L997.9,1012.4 L1002.8,1016.4 L1012.5,1016.9 L1015.7,1014.3 L1022.2,1013.2 L1023.8,1011.6 L1033.5,1011.6 L1036.7,1009.1 L1041.5,1007.5 L1048.0,1006.7 L1049.6,1005.1 L1056.1,1004.3 L1060.9,1002.7 L1065.8,1001.1 L1069.0,999.1 L1077.1,998.6 L1079.5,996.2 L1081.9,997.8 L1086.8,997.8 L1091.6,994.6 L1102.9,994.6 L1104.5,993.0 L1109.4,991.1 L1119.1,989.0 L1122.3,991.1 L1123.9,992.2 L1127.1,989.8 L1135.2,989.4 L1144.9,987.8 L1151.4,990.1 L1164.3,990.1 L1167.5,988.1 L1178.8,985.7 L1183.7,981.4 L1191.8,981.4 L1201.4,978.5 L1203.4,978.5 L1206.8,980.2 L1213.6,979.4 L1215.3,977.7 L1223.7,976.8 L1227.1,975.1 L1240.7,975.1 L1243.2,977.7 L1245.8,976.0 L1256.0,976.0 L1258.5,973.4 L1272.9,972.9 L1274.6,970.9 L1276.3,972.9 L1284.8,972.9 L1286.5,970.9 L1288.2,973.4 L1291.6,971.7 L1301.8,971.7 L1305.2,969.2 L1325.5,969.2 L1327.2,970.9 L1328.9,969.2 L1340.8,969.2 L1343.3,966.6 L1359.4,966.6 L1362.0,969.2 L1364.5,967.2 L1374.7,967.2 L1376.4,964.9 L1378.1,966.6 L1391.7,966.6 L1395.0,965.5 L1403.5,966.6 L1405.2,964.4 L1417.1,964.4 L1419.6,966.6 L1422.2,964.4 L1425.3,962.9 L1434.2,963.3 L1436.0,964.7 L1437.8,962.9 L1452.0,963.3 L1455.5,962.4 L1460.9,965.1 L1464.4,962.4 L1494.6,962.4 L1496.4,960.6 L1553.3,960.6 L1555.9,958.0 L1560.4,960.6 L1576.4,960.6 L1579.9,962.9 L1583.5,962.9 L1585.2,960.6 L1594.1,960.6 L1595.9,958.3 L1604.8,958.3 L1608.3,959.8 L1627.9,959.8 L1629.7,958.0 L1635.0,958.0 L1636.8,960.6 L1652.8,960.6 L1655.4,958.0 L1657.2,958.3" stroke="#ff0000" stroke-width="1.5" fill="none" stroke-linejoin="round"/>
<text transform="translate(4.71,38.00) scale(0.8917,1)" font-family="Liberation Sans, sans-serif" font-size="43" font-weight="bold" fill="#000">a</text>
<text transform="translate(41.04,58.00) scale(0.9889,1)" font-family="Liberation Serif, serif" font-size="33.5" fill="#067006" stroke="#067006" stroke-width="0.86">Friction coefficient</text>
<text transform="translate(601.72,59.30) scale(0.9882,1)" font-family="Liberation Serif, serif" font-size="34" fill="#ff0000" stroke="#ff0000" stroke-width="0.86">Temperature (ºC)</text>
<text transform="translate(38.07,100.90) scale(0.9534,1)" font-family="Liberation Serif, serif" font-size="33.6" fill="#067006" stroke="#067006" stroke-width="0.89">0.100</text>
<text transform="translate(791.26,100.90) scale(0.9677,1)" font-family="Liberation Serif, serif" font-size="33.6" fill="#ff0000" stroke="#ff0000" stroke-width="0.88">200</text>
<text transform="translate(38.07,145.23) scale(0.9534,1)" font-family="Liberation Serif, serif" font-size="33.6" fill="#067006" stroke="#067006" stroke-width="0.89">0.090</text>
<text transform="translate(791.26,145.23) scale(0.9677,1)" font-family="Liberation Serif, serif" font-size="33.6" fill="#ff0000" stroke="#ff0000" stroke-width="0.88">180</text>
<text transform="translate(38.07,189.56) scale(0.9534,1)" font-family="Liberation Serif, serif" font-size="33.6" fill="#067006" stroke="#067006" stroke-width="0.89">0.080</text>
<text transform="translate(791.26,189.56) scale(0.9677,1)" font-family="Liberation Serif, serif" font-size="33.6" fill="#ff0000" stroke="#ff0000" stroke-width="0.88">160</text>
<text transform="translate(38.07,233.89) scale(0.9534,1)" font-family="Liberation Serif, serif" font-size="33.6" fill="#067006" stroke="#067006" stroke-width="0.89">0.070</text>
<text transform="translate(791.26,233.89) scale(0.9677,1)" font-family="Liberation Serif, serif" font-size="33.6" fill="#ff0000" stroke="#ff0000" stroke-width="0.88">140</text>
<text transform="translate(38.07,278.22) scale(0.9534,1)" font-family="Liberation Serif, serif" font-size="33.6" fill="#067006" stroke="#067006" stroke-width="0.89">0.060</text>
<text transform="translate(791.26,278.22) scale(0.9677,1)" font-family="Liberation Serif, serif" font-size="33.6" fill="#ff0000" stroke="#ff0000" stroke-width="0.88">120</text>
<text transform="translate(38.07,322.55) scale(0.9534,1)" font-family="Liberation Serif, serif" font-size="33.6" fill="#067006" stroke="#067006" stroke-width="0.89">0.050</text>
<text transform="translate(791.26,322.55) scale(0.9677,1)" font-family="Liberation Serif, serif" font-size="33.6" fill="#ff0000" stroke="#ff0000" stroke-width="0.88">100</text>
<text transform="translate(38.07,366.88) scale(0.9534,1)" font-family="Liberation Serif, serif" font-size="33.6" fill="#067006" stroke="#067006" stroke-width="0.89">0.040</text>
<text transform="translate(791.26,366.88) scale(0.9677,1)" font-family="Liberation Serif, serif" font-size="33.6" fill="#ff0000" stroke="#ff0000" stroke-width="0.88">80</text>
<text transform="translate(38.07,411.21) scale(0.9534,1)" font-family="Liberation Serif, serif" font-size="33.6" fill="#067006" stroke="#067006" stroke-width="0.89">0.030</text>
<text transform="translate(791.26,411.21) scale(0.9677,1)" font-family="Liberation Serif, serif" font-size="33.6" fill="#ff0000" stroke="#ff0000" stroke-width="0.88">60</text>
<text transform="translate(38.07,455.54) scale(0.9534,1)" font-family="Liberation Serif, serif" font-size="33.6" fill="#067006" stroke="#067006" stroke-width="0.89">0.020</text>
<text transform="translate(791.26,455.54) scale(0.9677,1)" font-family="Liberation Serif, serif" font-size="33.6" fill="#ff0000" stroke="#ff0000" stroke-width="0.88">40</text>
<text transform="translate(38.07,499.87) scale(0.9534,1)" font-family="Liberation Serif, serif" font-size="33.6" fill="#067006" stroke="#067006" stroke-width="0.89">0.010</text>
<text transform="translate(791.26,499.87) scale(0.9677,1)" font-family="Liberation Serif, serif" font-size="33.6" fill="#ff0000" stroke="#ff0000" stroke-width="0.88">20</text>
<text transform="translate(38.07,544.20) scale(0.9534,1)" font-family="Liberation Serif, serif" font-size="33.6" fill="#067006" stroke="#067006" stroke-width="0.89">0.000</text>
<text transform="translate(791.26,544.20) scale(0.9677,1)" font-family="Liberation Serif, serif" font-size="33.6" fill="#ff0000" stroke="#ff0000" stroke-width="0.88">0</text>
<text transform="translate(110.00,568.80) scale(0.9172,1)" font-family="Liberation Serif, serif" font-size="33.6" fill="#000" stroke="#000" stroke-width="0.93">0</text>
<text transform="translate(178.40,568.80) scale(0.9172,1)" font-family="Liberation Serif, serif" font-size="33.6" fill="#000" stroke="#000" stroke-width="0.93">6</text>
<text transform="translate(236.55,568.80) scale(0.9172,1)" font-family="Liberation Serif, serif" font-size="33.6" fill="#000" stroke="#000" stroke-width="0.93">12</text>
<text transform="translate(302.49,568.80) scale(0.9172,1)" font-family="Liberation Serif, serif" font-size="33.6" fill="#000" stroke="#000" stroke-width="0.93">18</text>
<text transform="translate(369.81,568.80) scale(0.9172,1)" font-family="Liberation Serif, serif" font-size="33.6" fill="#000" stroke="#000" stroke-width="0.93">24</text>
<text transform="translate(436.21,568.80) scale(0.9172,1)" font-family="Liberation Serif, serif" font-size="33.6" fill="#000" stroke="#000" stroke-width="0.93">30</text>
<text transform="translate(502.61,568.80) scale(0.9172,1)" font-family="Liberation Serif, serif" font-size="33.6" fill="#000" stroke="#000" stroke-width="0.93">36</text>
<text transform="translate(569.93,568.80) scale(0.9172,1)" font-family="Liberation Serif, serif" font-size="33.6" fill="#000" stroke="#000" stroke-width="0.93">42</text>
<text transform="translate(635.87,568.80) scale(0.9172,1)" font-family="Liberation Serif, serif" font-size="33.6" fill="#000" stroke="#000" stroke-width="0.93">48</text>
<text transform="translate(701.35,568.80) scale(0.9172,1)" font-family="Liberation Serif, serif" font-size="33.6" fill="#000" stroke="#000" stroke-width="0.93">54</text>
<text transform="translate(768.21,568.80) scale(0.9172,1)" font-family="Liberation Serif, serif" font-size="33.6" fill="#000" stroke="#000" stroke-width="0.93">60</text>
<text transform="translate(374.82,607.40) scale(1.0206,1)" font-family="Liberation Serif, serif" font-size="34" fill="#000" stroke="#000" stroke-width="0.85">Time (min)</text>
<text transform="translate(877.67,36.30) scale(0.9174,1)" font-family="Liberation Sans, sans-serif" font-size="43" font-weight="bold" fill="#000">b</text>
<text transform="translate(915.34,58.00) scale(0.9889,1)" font-family="Liberation Serif, serif" font-size="33.5" fill="#067006" stroke="#067006" stroke-width="0.86">Friction coefficient</text>
<text transform="translate(1476.02,59.30) scale(0.9882,1)" font-family="Liberation Serif, serif" font-size="34" fill="#ff0000" stroke="#ff0000" stroke-width="0.86">Temperature (ºC)</text>
<text transform="translate(912.37,100.90) scale(0.9534,1)" font-family="Liberation Serif, serif" font-size="33.6" fill="#067006" stroke="#067006" stroke-width="0.89">0.100</text>
<text transform="translate(1665.56,100.90) scale(0.9677,1)" font-family="Liberation Serif, serif" font-size="33.6" fill="#ff0000" stroke="#ff0000" stroke-width="0.88">200</text>
<text transform="translate(912.37,145.23) scale(0.9534,1)" font-family="Liberation Serif, serif" font-size="33.6" fill="#067006" stroke="#067006" stroke-width="0.89">0.090</text>
<text transform="translate(1665.56,145.23) scale(0.9677,1)" font-family="Liberation Serif, serif" font-size="33.6" fill="#ff0000" stroke="#ff0000" stroke-width="0.88">180</text>
<text transform="translate(912.37,189.56) scale(0.9534,1)" font-family="Liberation Serif, serif" font-size="33.6" fill="#067006" stroke="#067006" stroke-width="0.89">0.080</text>
<text transform="translate(1665.56,189.56) scale(0.9677,1)" font-family="Liberation Serif, serif" font-size="33.6" fill="#ff0000" stroke="#ff0000" stroke-width="0.88">160</text>
<text transform="translate(912.37,233.89) scale(0.9534,1)" font-family="Liberation Serif, serif" font-size="33.6" fill="#067006" stroke="#067006" stroke-width="0.89">0.070</text>
<text transform="translate(1665.56,233.89) scale(0.9677,1)" font-family="Liberation Serif, serif" font-size="33.6" fill="#ff0000" stroke="#ff0000" stroke-width="0.88">140</text>
<text transform="translate(912.37,278.22) scale(0.9534,1)" font-family="Liberation Serif, serif" font-size="33.6" fill="#067006" stroke="#067006" stroke-width="0.89">0.060</text>
<text transform="translate(1665.56,278.22) scale(0.9677,1)" font-family="Liberation Serif, serif" font-size="33.6" fill="#ff0000" stroke="#ff0000" stroke-width="0.88">120</text>
<text transform="translate(912.37,322.55) scale(0.9534,1)" font-family="Liberation Serif, serif" font-size="33.6" fill="#067006" stroke="#067006" stroke-width="0.89">0.050</text>
<text transform="translate(1665.56,322.55) scale(0.9677,1)" font-family="Liberation Serif, serif" font-size="33.6" fill="#ff0000" stroke="#ff0000" stroke-width="0.88">100</text>
<text transform="translate(912.37,366.88) scale(0.9534,1)" font-family="Liberation Serif, serif" font-size="33.6" fill="#067006" stroke="#067006" stroke-width="0.89">0.040</text>
<text transform="translate(1665.56,366.88) scale(0.9677,1)" font-family="Liberation Serif, serif" font-size="33.6" fill="#ff0000" stroke="#ff0000" stroke-width="0.88">80</text>
<text transform="translate(912.37,411.21) scale(0.9534,1)" font-family="Liberation Serif, serif" font-size="33.6" fill="#067006" stroke="#067006" stroke-width="0.89">0.030</text>
<text transform="translate(1665.56,411.21) scale(0.9677,1)" font-family="Liberation Serif, serif" font-size="33.6" fill="#ff0000" stroke="#ff0000" stroke-width="0.88">60</text>
<text transform="translate(912.37,455.54) scale(0.9534,1)" font-family="Liberation Serif, serif" font-size="33.6" fill="#067006" stroke="#067006" stroke-width="0.89">0.020</text>
<text transform="translate(1665.56,455.54) scale(0.9677,1)" font-family="Liberation Serif, serif" font-size="33.6" fill="#ff0000" stroke="#ff0000" stroke-width="0.88">40</text>
<text transform="translate(912.37,499.87) scale(0.9534,1)" font-family="Liberation Serif, serif" font-size="33.6" fill="#067006" stroke="#067006" stroke-width="0.89">0.010</text>
<text transform="translate(1665.56,499.87) scale(0.9677,1)" font-family="Liberation Serif, serif" font-size="33.6" fill="#ff0000" stroke="#ff0000" stroke-width="0.88">20</text>
<text transform="translate(912.37,544.20) scale(0.9534,1)" font-family="Liberation Serif, serif" font-size="33.6" fill="#067006" stroke="#067006" stroke-width="0.89">0.000</text>
<text transform="translate(1665.56,544.20) scale(0.9677,1)" font-family="Liberation Serif, serif" font-size="33.6" fill="#ff0000" stroke="#ff0000" stroke-width="0.88">0</text>
<text transform="translate(984.30,568.80) scale(0.9172,1)" font-family="Liberation Serif, serif" font-size="33.6" fill="#000" stroke="#000" stroke-width="0.93">0</text>
<text transform="translate(1052.70,568.80) scale(0.9172,1)" font-family="Liberation Serif, serif" font-size="33.6" fill="#000" stroke="#000" stroke-width="0.93">6</text>
<text transform="translate(1110.85,568.80) scale(0.9172,1)" font-family="Liberation Serif, serif" font-size="33.6" fill="#000" stroke="#000" stroke-width="0.93">12</text>
<text transform="translate(1176.79,568.80) scale(0.9172,1)" font-family="Liberation Serif, serif" font-size="33.6" fill="#000" stroke="#000" stroke-width="0.93">18</text>
<text transform="translate(1244.11,568.80) scale(0.9172,1)" font-family="Liberation Serif, serif" font-size="33.6" fill="#000" stroke="#000" stroke-width="0.93">24</text>
<text transform="translate(1310.51,568.80) scale(0.9172,1)" font-family="Liberation Serif, serif" font-size="33.6" fill="#000" stroke="#000" stroke-width="0.93">30</text>
<text transform="translate(1376.91,568.80) scale(0.9172,1)" font-family="Liberation Serif, serif" font-size="33.6" fill="#000" stroke="#000" stroke-width="0.93">36</text>
<text transform="translate(1444.23,568.80) scale(0.9172,1)" font-family="Liberation Serif, serif" font-size="33.6" fill="#000" stroke="#000" stroke-width="0.93">42</text>
<text transform="translate(1510.17,568.80) scale(0.9172,1)" font-family="Liberation Serif, serif" font-size="33.6" fill="#000" stroke="#000" stroke-width="0.93">48</text>
<text transform="translate(1575.65,568.80) scale(0.9172,1)" font-family="Liberation Serif, serif" font-size="33.6" fill="#000" stroke="#000" stroke-width="0.93">54</text>
<text transform="translate(1642.51,568.80) scale(0.9172,1)" font-family="Liberation Serif, serif" font-size="33.6" fill="#000" stroke="#000" stroke-width="0.93">60</text>
<text transform="translate(1249.12,607.40) scale(1.0206,1)" font-family="Liberation Serif, serif" font-size="34" fill="#000" stroke="#000" stroke-width="0.85">Time (min)</text>
<text transform="translate(4.63,656.20) scale(0.9727,1)" font-family="Liberation Sans, sans-serif" font-size="43" font-weight="bold" fill="#000">c</text>
<text transform="translate(41.04,676.20) scale(0.9889,1)" font-family="Liberation Serif, serif" font-size="33.5" fill="#067006" stroke="#067006" stroke-width="0.86">Friction coefficient</text>
<text transform="translate(601.72,677.50) scale(0.9882,1)" font-family="Liberation Serif, serif" font-size="34" fill="#ff0000" stroke="#ff0000" stroke-width="0.86">Temperature (ºC)</text>
<text transform="translate(38.07,719.20) scale(0.9534,1)" font-family="Liberation Serif, serif" font-size="33.6" fill="#067006" stroke="#067006" stroke-width="0.89">0.100</text>
<text transform="translate(791.26,719.20) scale(0.9677,1)" font-family="Liberation Serif, serif" font-size="33.6" fill="#ff0000" stroke="#ff0000" stroke-width="0.88">200</text>
<text transform="translate(38.07,763.58) scale(0.9534,1)" font-family="Liberation Serif, serif" font-size="33.6" fill="#067006" stroke="#067006" stroke-width="0.89">0.090</text>
<text transform="translate(791.26,763.58) scale(0.9677,1)" font-family="Liberation Serif, serif" font-size="33.6" fill="#ff0000" stroke="#ff0000" stroke-width="0.88">180</text>
<text transform="translate(38.07,807.96) scale(0.9534,1)" font-family="Liberation Serif, serif" font-size="33.6" fill="#067006" stroke="#067006" stroke-width="0.89">0.080</text>
<text transform="translate(791.26,807.96) scale(0.9677,1)" font-family="Liberation Serif, serif" font-size="33.6" fill="#ff0000" stroke="#ff0000" stroke-width="0.88">160</text>
<text transform="translate(38.07,852.34) scale(0.9534,1)" font-family="Liberation Serif, serif" font-size="33.6" fill="#067006" stroke="#067006" stroke-width="0.89">0.070</text>
<text transform="translate(791.26,852.34) scale(0.9677,1)" font-family="Liberation Serif, serif" font-size="33.6" fill="#ff0000" stroke="#ff0000" stroke-width="0.88">140</text>
<text transform="translate(38.07,896.72) scale(0.9534,1)" font-family="Liberation Serif, serif" font-size="33.6" fill="#067006" stroke="#067006" stroke-width="0.89">0.060</text>
<text transform="translate(791.26,896.72) scale(0.9677,1)" font-family="Liberation Serif, serif" font-size="33.6" fill="#ff0000" stroke="#ff0000" stroke-width="0.88">120</text>
<text transform="translate(38.07,941.10) scale(0.9534,1)" font-family="Liberation Serif, serif" font-size="33.6" fill="#067006" stroke="#067006" stroke-width="0.89">0.050</text>
<text transform="translate(791.26,941.10) scale(0.9677,1)" font-family="Liberation Serif, serif" font-size="33.6" fill="#ff0000" stroke="#ff0000" stroke-width="0.88">100</text>
<text transform="translate(38.07,985.48) scale(0.9534,1)" font-family="Liberation Serif, serif" font-size="33.6" fill="#067006" stroke="#067006" stroke-width="0.89">0.040</text>
<text transform="translate(791.26,985.48) scale(0.9677,1)" font-family="Liberation Serif, serif" font-size="33.6" fill="#ff0000" stroke="#ff0000" stroke-width="0.88">80</text>
<text transform="translate(38.07,1029.86) scale(0.9534,1)" font-family="Liberation Serif, serif" font-size="33.6" fill="#067006" stroke="#067006" stroke-width="0.89">0.030</text>
<text transform="translate(791.26,1029.86) scale(0.9677,1)" font-family="Liberation Serif, serif" font-size="33.6" fill="#ff0000" stroke="#ff0000" stroke-width="0.88">60</text>
<text transform="translate(38.07,1074.24) scale(0.9534,1)" font-family="Liberation Serif, serif" font-size="33.6" fill="#067006" stroke="#067006" stroke-width="0.89">0.020</text>
<text transform="translate(791.26,1074.24) scale(0.9677,1)" font-family="Liberation Serif, serif" font-size="33.6" fill="#ff0000" stroke="#ff0000" stroke-width="0.88">40</text>
<text transform="translate(38.07,1118.62) scale(0.9534,1)" font-family="Liberation Serif, serif" font-size="33.6" fill="#067006" stroke="#067006" stroke-width="0.89">0.010</text>
<text transform="translate(791.26,1118.62) scale(0.9677,1)" font-family="Liberation Serif, serif" font-size="33.6" fill="#ff0000" stroke="#ff0000" stroke-width="0.88">20</text>
<text transform="translate(38.07,1163.00) scale(0.9534,1)" font-family="Liberation Serif, serif" font-size="33.6" fill="#067006" stroke="#067006" stroke-width="0.89">0.000</text>
<text transform="translate(791.26,1163.00) scale(0.9677,1)" font-family="Liberation Serif, serif" font-size="33.6" fill="#ff0000" stroke="#ff0000" stroke-width="0.88">0</text>
<text transform="translate(110.00,1187.00) scale(0.9172,1)" font-family="Liberation Serif, serif" font-size="33.6" fill="#000" stroke="#000" stroke-width="0.93">0</text>
<text transform="translate(178.40,1187.00) scale(0.9172,1)" font-family="Liberation Serif, serif" font-size="33.6" fill="#000" stroke="#000" stroke-width="0.93">6</text>
<text transform="translate(236.55,1187.00) scale(0.9172,1)" font-family="Liberation Serif, serif" font-size="33.6" fill="#000" stroke="#000" stroke-width="0.93">12</text>
<text transform="translate(302.49,1187.00) scale(0.9172,1)" font-family="Liberation Serif, serif" font-size="33.6" fill="#000" stroke="#000" stroke-width="0.93">18</text>
<text transform="translate(369.81,1187.00) scale(0.9172,1)" font-family="Liberation Serif, serif" font-size="33.6" fill="#000" stroke="#000" stroke-width="0.93">24</text>
<text transform="translate(436.21,1187.00) scale(0.9172,1)" font-family="Liberation Serif, serif" font-size="33.6" fill="#000" stroke="#000" stroke-width="0.93">30</text>
<text transform="translate(502.61,1187.00) scale(0.9172,1)" font-family="Liberation Serif, serif" font-size="33.6" fill="#000" stroke="#000" stroke-width="0.93">36</text>
<text transform="translate(569.93,1187.00) scale(0.9172,1)" font-family="Liberation Serif, serif" font-size="33.6" fill="#000" stroke="#000" stroke-width="0.93">42</text>
<text transform="translate(635.87,1187.00) scale(0.9172,1)" font-family="Liberation Serif, serif" font-size="33.6" fill="#000" stroke="#000" stroke-width="0.93">48</text>
<text transform="translate(701.35,1187.00) scale(0.9172,1)" font-family="Liberation Serif, serif" font-size="33.6" fill="#000" stroke="#000" stroke-width="0.93">54</text>
<text transform="translate(768.21,1187.00) scale(0.9172,1)" font-family="Liberation Serif, serif" font-size="33.6" fill="#000" stroke="#000" stroke-width="0.93">60</text>
<text transform="translate(374.82,1225.60) scale(1.0206,1)" font-family="Liberation Serif, serif" font-size="34" fill="#000" stroke="#000" stroke-width="0.85">Time (min)</text>
<text transform="translate(879.18,654.50) scale(0.9217,1)" font-family="Liberation Sans, sans-serif" font-size="43" font-weight="bold" fill="#000">d</text>
<text transform="translate(915.34,676.20) scale(0.9889,1)" font-family="Liberation Serif, serif" font-size="33.5" fill="#067006" stroke="#067006" stroke-width="0.86">Friction coefficient</text>
<text transform="translate(1476.02,677.50) scale(0.9882,1)" font-family="Liberation Serif, serif" font-size="34" fill="#ff0000" stroke="#ff0000" stroke-width="0.86">Temperature (ºC)</text>
<text transform="translate(912.37,719.20) scale(0.9534,1)" font-family="Liberation Serif, serif" font-size="33.6" fill="#067006" stroke="#067006" stroke-width="0.89">0.100</text>
<text transform="translate(1665.56,719.20) scale(0.9677,1)" font-family="Liberation Serif, serif" font-size="33.6" fill="#ff0000" stroke="#ff0000" stroke-width="0.88">200</text>
<text transform="translate(912.37,763.58) scale(0.9534,1)" font-family="Liberation Serif, serif" font-size="33.6" fill="#067006" stroke="#067006" stroke-width="0.89">0.090</text>
<text transform="translate(1665.56,763.58) scale(0.9677,1)" font-family="Liberation Serif, serif" font-size="33.6" fill="#ff0000" stroke="#ff0000" stroke-width="0.88">180</text>
<text transform="translate(912.37,807.96) scale(0.9534,1)" font-family="Liberation Serif, serif" font-size="33.6" fill="#067006" stroke="#067006" stroke-width="0.89">0.080</text>
<text transform="translate(1665.56,807.96) scale(0.9677,1)" font-family="Liberation Serif, serif" font-size="33.6" fill="#ff0000" stroke="#ff0000" stroke-width="0.88">160</text>
<text transform="translate(912.37,852.34) scale(0.9534,1)" font-family="Liberation Serif, serif" font-size="33.6" fill="#067006" stroke="#067006" stroke-width="0.89">0.070</text>
<text transform="translate(1665.56,852.34) scale(0.9677,1)" font-family="Liberation Serif, serif" font-size="33.6" fill="#ff0000" stroke="#ff0000" stroke-width="0.88">140</text>
<text transform="translate(912.37,896.72) scale(0.9534,1)" font-family="Liberation Serif, serif" font-size="33.6" fill="#067006" stroke="#067006" stroke-width="0.89">0.060</text>
<text transform="translate(1665.56,896.72) scale(0.9677,1)" font-family="Liberation Serif, serif" font-size="33.6" fill="#ff0000" stroke="#ff0000" stroke-width="0.88">120</text>
<text transform="translate(912.37,941.10) scale(0.9534,1)" font-family="Liberation Serif, serif" font-size="33.6" fill="#067006" stroke="#067006" stroke-width="0.89">0.050</text>
<text transform="translate(1665.56,941.10) scale(0.9677,1)" font-family="Liberation Serif, serif" font-size="33.6" fill="#ff0000" stroke="#ff0000" stroke-width="0.88">100</text>
<text transform="translate(912.37,985.48) scale(0.9534,1)" font-family="Liberation Serif, serif" font-size="33.6" fill="#067006" stroke="#067006" stroke-width="0.89">0.040</text>
<text transform="translate(1665.56,985.48) scale(0.9677,1)" font-family="Liberation Serif, serif" font-size="33.6" fill="#ff0000" stroke="#ff0000" stroke-width="0.88">80</text>
<text transform="translate(912.37,1029.86) scale(0.9534,1)" font-family="Liberation Serif, serif" font-size="33.6" fill="#067006" stroke="#067006" stroke-width="0.89">0.030</text>
<text transform="translate(1665.56,1029.86) scale(0.9677,1)" font-family="Liberation Serif, serif" font-size="33.6" fill="#ff0000" stroke="#ff0000" stroke-width="0.88">60</text>
<text transform="translate(912.37,1074.24) scale(0.9534,1)" font-family="Liberation Serif, serif" font-size="33.6" fill="#067006" stroke="#067006" stroke-width="0.89">0.020</text>
<text transform="translate(1665.56,1074.24) scale(0.9677,1)" font-family="Liberation Serif, serif" font-size="33.6" fill="#ff0000" stroke="#ff0000" stroke-width="0.88">40</text>
<text transform="translate(912.37,1118.62) scale(0.9534,1)" font-family="Liberation Serif, serif" font-size="33.6" fill="#067006" stroke="#067006" stroke-width="0.89">0.010</text>
<text transform="translate(1665.56,1118.62) scale(0.9677,1)" font-family="Liberation Serif, serif" font-size="33.6" fill="#ff0000" stroke="#ff0000" stroke-width="0.88">20</text>
<text transform="translate(912.37,1163.00) scale(0.9534,1)" font-family="Liberation Serif, serif" font-size="33.6" fill="#067006" stroke="#067006" stroke-width="0.89">0.000</text>
<text transform="translate(1665.56,1163.00) scale(0.9677,1)" font-family="Liberation Serif, serif" font-size="33.6" fill="#ff0000" stroke="#ff0000" stroke-width="0.88">0</text>
<text transform="translate(984.30,1187.00) scale(0.9172,1)" font-family="Liberation Serif, serif" font-size="33.6" fill="#000" stroke="#000" stroke-width="0.93">0</text>
<text transform="translate(1052.70,1187.00) scale(0.9172,1)" font-family="Liberation Serif, serif" font-size="33.6" fill="#000" stroke="#000" stroke-width="0.93">6</text>
<text transform="translate(1110.85,1187.00) scale(0.9172,1)" font-family="Liberation Serif, serif" font-size="33.6" fill="#000" stroke="#000" stroke-width="0.93">12</text>
<text transform="translate(1176.79,1187.00) scale(0.9172,1)" font-family="Liberation Serif, serif" font-size="33.6" fill="#000" stroke="#000" stroke-width="0.93">18</text>
<text transform="translate(1244.11,1187.00) scale(0.9172,1)" font-family="Liberation Serif, serif" font-size="33.6" fill="#000" stroke="#000" stroke-width="0.93">24</text>
<text transform="translate(1310.51,1187.00) scale(0.9172,1)" font-family="Liberation Serif, serif" font-size="33.6" fill="#000" stroke="#000" stroke-width="0.93">30</text>
<text transform="translate(1376.91,1187.00) scale(0.9172,1)" font-family="Liberation Serif, serif" font-size="33.6" fill="#000" stroke="#000" stroke-width="0.93">36</text>
<text transform="translate(1444.23,1187.00) scale(0.9172,1)" font-family="Liberation Serif, serif" font-size="33.6" fill="#000" stroke="#000" stroke-width="0.93">42</text>
<text transform="translate(1510.17,1187.00) scale(0.9172,1)" font-family="Liberation Serif, serif" font-size="33.6" fill="#000" stroke="#000" stroke-width="0.93">48</text>
<text transform="translate(1575.65,1187.00) scale(0.9172,1)" font-family="Liberation Serif, serif" font-size="33.6" fill="#000" stroke="#000" stroke-width="0.93">54</text>
<text transform="translate(1642.51,1187.00) scale(0.9172,1)" font-family="Liberation Serif, serif" font-size="33.6" fill="#000" stroke="#000" stroke-width="0.93">60</text>
<text transform="translate(1249.12,1225.60) scale(1.0206,1)" font-family="Liberation Serif, serif" font-size="34" fill="#000" stroke="#000" stroke-width="0.85">Time (min)</text>
<rect x="525.0" y="307.7" width="145.8" height="30.5" fill="#fff"/><text transform="translate(527.52,329.20) scale(0.9260,1)" font-family="Liberation Serif, serif" font-size="32" fill="#ff0000" stroke="#ff0000" stroke-width="0.92">temperature</text>
<rect x="527.6" y="424.8" width="226.8" height="31.5" fill="#fff"/><text transform="translate(530.70,451.30) scale(0.9234,1)" font-family="Liberation Serif, serif" font-size="32" fill="#067006" stroke="#067006" stroke-width="0.92">friction coefficient</text>
<rect x="1399.4" y="317.0" width="146.2" height="30.5" fill="#fff"/><text transform="translate(1401.92,338.50) scale(0.9286,1)" font-family="Liberation Serif, serif" font-size="32" fill="#ff0000" stroke="#ff0000" stroke-width="0.92">temperature</text>
<rect x="1362.9" y="442.6" width="227.4" height="31.5" fill="#fff"/><text transform="translate(1366.00,469.10) scale(0.9255,1)" font-family="Liberation Serif, serif" font-size="32" fill="#067006" stroke="#067006" stroke-width="0.92">friction coefficient</text>
<rect x="524.8" y="939.0" width="146.3" height="30.5" fill="#fff"/><text transform="translate(527.32,960.50) scale(0.9293,1)" font-family="Liberation Serif, serif" font-size="32" fill="#ff0000" stroke="#ff0000" stroke-width="0.91">temperature</text>
<rect x="523.0" y="1058.3" width="227.2" height="31.5" fill="#fff"/><text transform="translate(526.10,1084.80) scale(0.9247,1)" font-family="Liberation Serif, serif" font-size="32" fill="#067006" stroke="#067006" stroke-width="0.92">friction coefficient</text>
<rect x="1397.9" y="927.6" width="146.1" height="30.5" fill="#fff"/><text transform="translate(1400.42,949.10) scale(0.9280,1)" font-family="Liberation Serif, serif" font-size="32" fill="#ff0000" stroke="#ff0000" stroke-width="0.92">temperature</text>
<rect x="1397.1" y="1058.5" width="227.4" height="31.5" fill="#fff"/><text transform="translate(1400.20,1085.00) scale(0.9259,1)" font-family="Liberation Serif, serif" font-size="32" fill="#067006" stroke="#067006" stroke-width="0.92">friction coefficient</text>
</svg></body></html>
